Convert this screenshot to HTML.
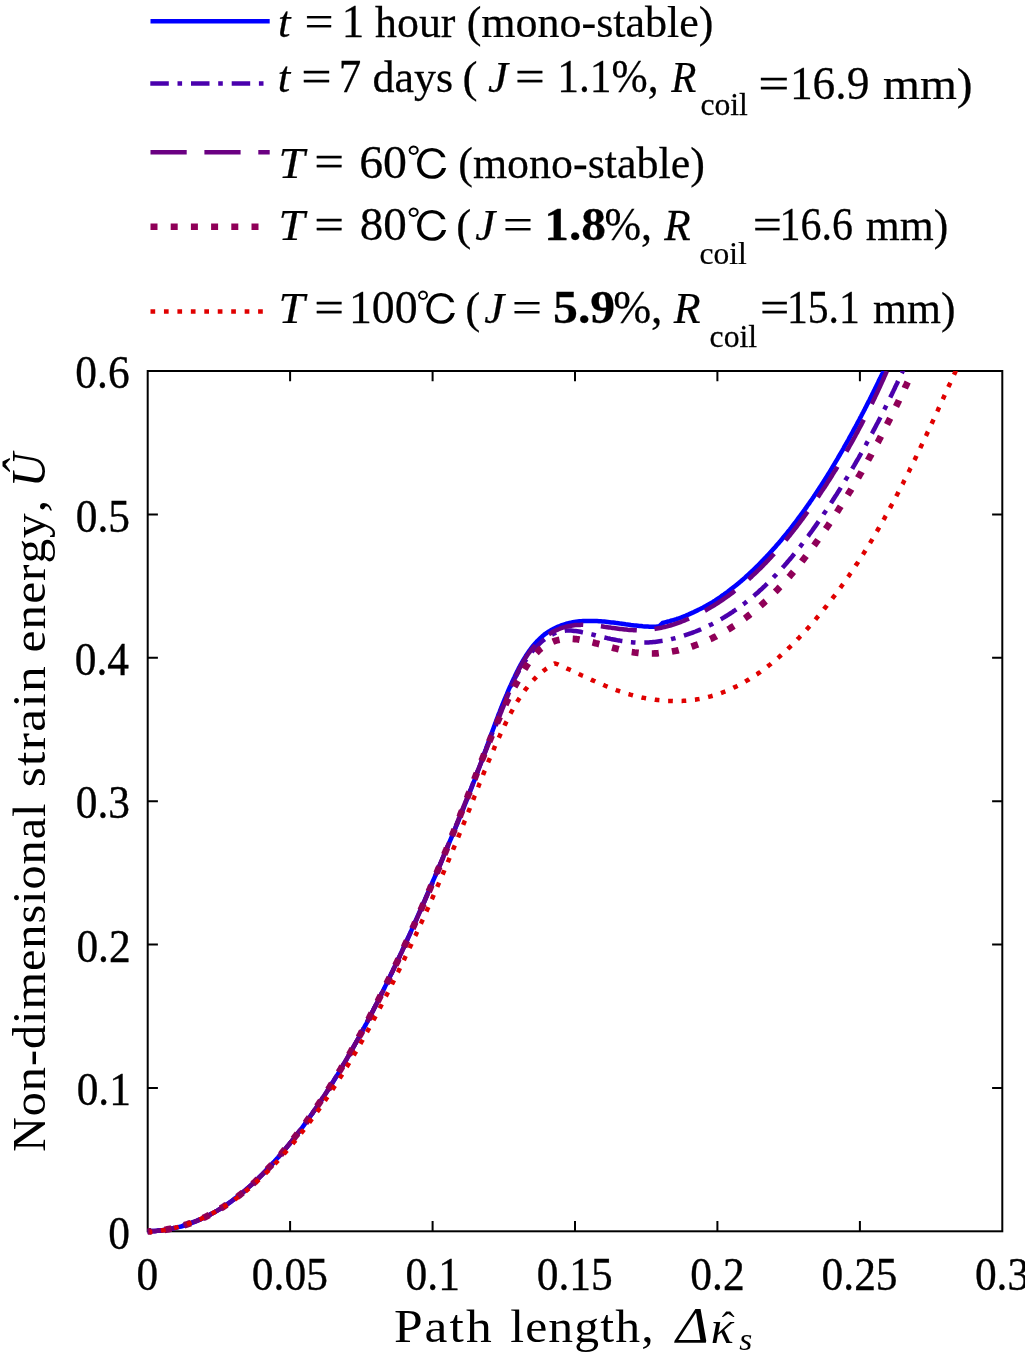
<!DOCTYPE html>
<html lang="en"><head><meta charset="utf-8"><title>Strain energy vs path length</title>
<style>html,body{margin:0;padding:0;background:#fff}svg{display:block}</style></head>
<body>
<svg width="1025" height="1353" viewBox="0 0 1025 1353">
<defs><clipPath id="plotclip"><rect x="147.1" y="371.0" width="855.1999999999999" height="864.3"/></clipPath></defs>
<rect width="1025" height="1353" fill="#fff"/>
<g stroke="#000" stroke-width="2" fill="none" stroke-linecap="butt">
<rect x="147.7" y="371.0" width="854.5999999999999" height="860.3"/>
<path d="M290.1,1231.3 V1221.1 M290.1,371.0 V381.2"/>
<path d="M432.6,1231.3 V1221.1 M432.6,371.0 V381.2"/>
<path d="M575.0,1231.3 V1221.1 M575.0,371.0 V381.2"/>
<path d="M717.4,1231.3 V1221.1 M717.4,371.0 V381.2"/>
<path d="M859.9,1231.3 V1221.1 M859.9,371.0 V381.2"/>
<path d="M147.7,1087.9 H157.89999999999998 M1002.3,1087.9 H992.0999999999999"/>
<path d="M147.7,944.5 H157.89999999999998 M1002.3,944.5 H992.0999999999999"/>
<path d="M147.7,801.2 H157.89999999999998 M1002.3,801.2 H992.0999999999999"/>
<path d="M147.7,657.8 H157.89999999999998 M1002.3,657.8 H992.0999999999999"/>
<path d="M147.7,514.4 H157.89999999999998 M1002.3,514.4 H992.0999999999999"/>
</g>
<g clip-path="url(#plotclip)" fill="none" stroke-linejoin="round">
<path d="M147.7,1231.2 L149.5,1231.2 L151.4,1231.1 L153.2,1231.0 L155.0,1230.9 L156.8,1230.8 L158.6,1230.6 L160.4,1230.5 L162.2,1230.2 L163.9,1230.0 L165.7,1229.8 L167.4,1229.5 L169.2,1229.2 L170.9,1228.9 L172.6,1228.5 L174.3,1228.1 L176.0,1227.8 L177.7,1227.3 L179.4,1226.9 L181.1,1226.5 L182.7,1226.0 L184.4,1225.5 L186.0,1225.0 L187.6,1224.4 L189.3,1223.9 L190.9,1223.3 L192.5,1222.7 L194.1,1222.1 L195.7,1221.5 L197.2,1220.8 L198.8,1220.1 L200.4,1219.4 L201.9,1218.7 L203.5,1218.0 L205.0,1217.3 L206.5,1216.5 L208.1,1215.7 L209.6,1214.9 L211.1,1214.1 L212.6,1213.3 L214.1,1212.5 L215.5,1211.6 L217.0,1210.8 L218.5,1209.9 L219.9,1209.0 L221.4,1208.1 L222.8,1207.1 L224.2,1206.2 L225.6,1205.2 L227.1,1204.3 L228.5,1203.3 L229.9,1202.3 L231.3,1201.3 L232.6,1200.3 L234.0,1199.2 L235.4,1198.2 L236.8,1197.1 L238.1,1196.1 L239.5,1195.0 L240.8,1193.9 L242.1,1192.8 L243.5,1191.7 L244.8,1190.6 L246.1,1189.4 L247.4,1188.3 L248.7,1187.1 L250.0,1186.0 L251.3,1184.8 L252.6,1183.6 L253.8,1182.5 L255.1,1181.3 L256.3,1180.1 L257.6,1178.9 L258.8,1177.7 L260.1,1176.4 L261.3,1175.2 L262.5,1174.0 L263.8,1172.7 L265.0,1171.5 L266.2,1170.2 L267.4,1169.0 L268.6,1167.7 L269.8,1166.5 L271.0,1165.2 L272.1,1163.9 L273.3,1162.6 L274.5,1161.4 L275.7,1160.1 L276.8,1158.8 L278.0,1157.5 L279.1,1156.2 L280.2,1154.9 L281.4,1153.6 L282.5,1152.2 L283.6,1150.9 L284.8,1149.6 L285.9,1148.3 L287.0,1146.9 L288.1,1145.6 L289.2,1144.3 L290.3,1142.9 L291.4,1141.6 L292.4,1140.2 L293.5,1138.9 L294.6,1137.5 L295.7,1136.1 L296.7,1134.8 L297.8,1133.4 L298.8,1132.0 L299.9,1130.7 L300.9,1129.3 L302.0,1127.9 L303.0,1126.5 L304.0,1125.1 L305.0,1123.7 L306.1,1122.3 L307.1,1120.9 L308.1,1119.5 L309.1,1118.1 L310.1,1116.7 L311.1,1115.3 L312.1,1113.9 L313.1,1112.4 L314.1,1111.0 L315.1,1109.6 L316.0,1108.2 L317.0,1106.7 L318.0,1105.3 L318.9,1103.9 L319.9,1102.4 L320.9,1101.0 L321.8,1099.5 L322.8,1098.1 L323.7,1096.7 L324.7,1095.2 L325.6,1093.7 L326.5,1092.3 L327.5,1090.8 L328.4,1089.4 L329.3,1087.9 L330.2,1086.4 L331.2,1085.0 L332.1,1083.5 L333.0,1082.0 L333.9,1080.6 L334.8,1079.1 L335.7,1077.6 L336.6,1076.1 L337.5,1074.7 L338.4,1073.2 L339.3,1071.7 L340.2,1070.2 L341.1,1068.7 L341.9,1067.2 L342.8,1065.7 L343.7,1064.2 L344.6,1062.7 L345.4,1061.3 L346.3,1059.8 L347.2,1058.3 L348.0,1056.8 L348.9,1055.3 L349.7,1053.8 L350.6,1052.3 L351.5,1050.8 L352.3,1049.2 L353.1,1047.7 L354.0,1046.2 L354.8,1044.7 L355.7,1043.2 L356.5,1041.7 L357.3,1040.2 L358.2,1038.7 L359.0,1037.2 L359.8,1035.6 L360.7,1034.1 L361.5,1032.6 L362.3,1031.1 L363.1,1029.6 L363.9,1028.0 L364.7,1026.5 L365.6,1025.0 L366.4,1023.5 L367.2,1021.9 L368.0,1020.4 L368.8,1018.9 L369.6,1017.3 L370.4,1015.8 L371.2,1014.3 L372.0,1012.8 L372.8,1011.2 L373.5,1009.7 L374.3,1008.1 L375.1,1006.6 L375.9,1005.1 L376.7,1003.5 L377.5,1002.0 L378.2,1000.4 L379.0,998.9 L379.8,997.4 L380.6,995.8 L381.3,994.3 L382.1,992.7 L382.9,991.2 L383.6,989.6 L384.4,988.1 L385.1,986.5 L385.9,985.0 L386.7,983.4 L387.4,981.9 L388.2,980.3 L388.9,978.8 L389.7,977.2 L390.4,975.6 L391.2,974.1 L391.9,972.5 L392.7,971.0 L393.4,969.4 L394.1,967.8 L394.9,966.3 L395.6,964.7 L396.3,963.2 L397.1,961.6 L397.8,960.0 L398.5,958.5 L399.3,956.9 L400.0,955.3 L400.7,953.8 L401.5,952.2 L402.2,950.6 L402.9,949.0 L403.6,947.5 L404.3,945.9 L405.1,944.3 L405.8,942.8 L406.5,941.2 L407.2,939.6 L407.9,938.0 L408.6,936.5 L409.4,934.9 L410.1,933.3 L410.8,931.7 L411.5,930.2 L412.2,928.6 L412.9,927.0 L413.6,925.4 L414.3,923.8 L415.0,922.3 L415.7,920.7 L416.4,919.1 L417.1,917.5 L417.8,915.9 L418.5,914.3 L419.2,912.8 L419.9,911.2 L420.6,909.6 L421.3,908.0 L422.0,906.4 L422.7,904.8 L423.4,903.2 L424.1,901.7 L424.8,900.1 L425.4,898.5 L426.1,896.9 L426.8,895.3 L427.5,893.7 L428.2,892.1 L428.9,890.5 L429.6,889.0 L430.3,887.4 L430.9,885.8 L431.6,884.2 L432.3,882.6 L433.0,881.0 L433.7,879.4 L434.4,877.8 L435.1,876.2 L435.7,874.6 L436.4,873.0 L437.1,871.4 L437.8,869.9 L438.5,868.3 L439.1,866.7 L439.8,865.1 L440.5,863.5 L441.2,861.9 L441.9,860.3 L442.5,858.7 L443.2,857.1 L443.9,855.5 L444.6,853.9 L445.2,852.3 L445.9,850.7 L446.6,849.1 L447.3,847.5 L447.9,845.9 L448.6,844.3 L449.3,842.7 L449.9,841.1 L450.6,839.5 L451.3,838.0 L451.9,836.4 L452.6,834.8 L453.3,833.2 L453.9,831.6 L454.6,830.0 L455.3,828.4 L455.9,826.8 L456.6,825.2 L457.3,823.6 L457.9,822.0 L458.6,820.4 L459.2,818.8 L459.9,817.2 L460.5,815.6 L461.2,813.9 L461.8,812.3 L462.5,810.7 L463.1,809.1 L463.8,807.5 L464.4,805.9 L465.0,804.3 L465.7,802.7 L466.3,801.1 L467.0,799.5 L467.6,797.9 L468.2,796.3 L468.9,794.7 L469.5,793.1 L470.1,791.5 L470.7,789.9 L471.4,788.3 L472.0,786.7 L472.6,785.0 L473.2,783.4 L473.8,781.8 L474.5,780.2 L475.1,778.6 L475.7,777.0 L476.3,775.4 L476.9,773.8 L477.5,772.2 L478.1,770.5 L478.7,768.9 L479.3,767.3 L479.9,765.7 L480.5,764.1 L481.1,762.5 L481.7,760.8 L482.2,759.2 L482.8,757.6 L483.4,756.0 L484.0,754.4 L484.6,752.8 L485.2,751.1 L485.8,749.5 L486.3,747.9 L486.9,746.3 L487.5,744.7 L488.1,743.1 L488.7,741.4 L489.2,739.8 L489.8,738.2 L490.4,736.6 L491.0,735.0 L491.6,733.3 L492.2,731.7 L492.8,730.1 L493.4,728.5 L494.0,726.9 L494.6,725.2 L495.2,723.6 L495.8,722.0 L496.4,720.4 L497.0,718.8 L497.6,717.2 L498.2,715.5 L498.8,713.9 L499.5,712.3 L500.1,710.7 L500.7,709.1 L501.4,707.5 L502.0,705.9 L502.7,704.2 L503.3,702.6 L504.0,701.0 L504.6,699.4 L505.3,697.8 L506.0,696.2 L506.7,694.6 L507.3,693.0 L508.0,691.3 L508.7,689.7 L509.4,688.1 L510.1,686.5 L510.9,684.9 L511.6,683.3 L512.3,681.7 L513.1,680.1 L513.8,678.5 L514.6,676.9 L515.3,675.3 L516.1,673.7 L516.9,672.1 L517.7,670.5 L518.5,668.9 L519.3,667.4 L520.1,665.8 L521.0,664.2 L521.8,662.7 L522.7,661.2 L523.6,659.6 L524.5,658.1 L525.4,656.7 L526.3,655.2 L527.3,653.7 L528.3,652.3 L529.3,650.9 L530.3,649.5 L531.3,648.1 L532.3,646.8 L533.4,645.5 L534.5,644.2 L535.6,642.9 L536.7,641.7 L537.9,640.5 L539.1,639.3 L540.3,638.2 L541.5,637.1 L542.7,636.0 L544.0,634.9 L545.3,633.9 L546.7,633.0 L548.0,632.0 L549.4,631.2 L550.8,630.3 L552.3,629.5 L553.7,628.7 L555.2,628.0 L556.7,627.3 L558.2,626.6 L559.8,626.0 L561.3,625.4 L562.9,624.8 L564.5,624.3 L566.1,623.8 L567.7,623.4 L569.4,623.0 L571.0,622.6 L572.7,622.3 L574.4,622.0 L576.1,621.7 L577.8,621.5 L579.5,621.3 L581.2,621.2 L583.0,621.1 L584.7,621.0 L586.4,620.9 L588.2,620.9 L590.0,620.9 L591.7,620.9 L593.5,620.9 L595.3,621.0 L597.1,621.1 L598.9,621.2 L600.7,621.3 L602.5,621.5 L604.2,621.6 L606.0,621.8 L607.8,622.0 L609.6,622.2 L611.4,622.4 L613.2,622.6 L615.0,622.8 L616.8,623.1 L618.6,623.3 L620.4,623.6 L622.1,623.8 L623.9,624.0 L625.7,624.3 L627.4,624.5 L629.2,624.7 L630.9,625.0 L632.6,625.2 L634.4,625.4 L636.1,625.6 L637.8,625.8 L639.5,626.0 L641.2,626.1 L642.8,626.3 L644.5,626.4 L646.1,626.5 L647.8,626.6 L649.4,626.7 L651.0,626.7 L652.6,626.8 L654.2,626.7 L655.8,626.7 L657.3,626.6 L658.9,626.5 L662.5,623.0 L663.7,622.7 L664.9,622.4 L666.0,622.1 L667.2,621.8 L668.4,621.5 L669.6,621.2 L670.7,620.8 L671.9,620.5 L673.0,620.2 L674.2,619.8 L675.3,619.5 L676.5,619.1 L677.6,618.7 L678.8,618.4 L679.9,618.0 L681.1,617.6 L682.2,617.1 L683.3,616.7 L684.4,616.2 L685.5,615.8 L686.6,615.3 L687.7,614.8 L688.8,614.4 L689.9,613.9 L691.0,613.4 L692.1,612.9 L693.2,612.4 L694.2,611.9 L695.3,611.4 L696.4,610.9 L697.5,610.4 L698.5,609.8 L699.6,609.3 L700.6,608.8 L701.7,608.2 L702.8,607.7 L703.8,607.1 L704.9,606.6 L705.9,606.0 L706.9,605.4 L708.0,604.9 L709.0,604.3 L710.0,603.7 L711.1,603.1 L712.1,602.5 L713.1,601.9 L714.1,601.2 L715.1,600.6 L716.1,599.9 L717.1,599.3 L718.0,598.6 L719.0,598.0 L720.0,597.3 L721.0,596.6 L721.9,595.9 L722.9,595.2 L723.9,594.6 L724.8,593.9 L725.8,593.2 L726.7,592.5 L727.7,591.8 L728.6,591.1 L729.6,590.3 L730.5,589.6 L731.4,588.9 L732.4,588.2 L733.3,587.4 L734.2,586.7 L735.1,586.0 L736.1,585.2 L737.0,584.5 L737.9,583.7 L738.8,583.0 L739.7,582.2 L740.6,581.5 L741.5,580.7 L742.4,579.9 L743.3,579.2 L744.2,578.4 L745.1,577.6 L745.9,576.8 L746.8,576.0 L747.7,575.2 L748.6,574.4 L749.4,573.6 L750.3,572.8 L751.1,572.0 L752.0,571.2 L752.9,570.4 L753.7,569.6 L754.6,568.8 L755.4,567.9 L756.2,567.1 L757.1,566.3 L757.9,565.5 L758.8,564.6 L759.6,563.8 L760.4,562.9 L761.2,562.1 L762.1,561.2 L762.9,560.4 L763.7,559.5 L764.5,558.7 L765.3,557.8 L766.1,557.0 L766.9,556.1 L767.7,555.3 L768.6,554.4 L769.4,553.5 L770.2,552.7 L770.9,551.8 L771.7,550.9 L772.5,550.0 L773.3,549.2 L774.1,548.3 L774.9,547.4 L775.7,546.5 L776.4,545.6 L777.2,544.7 L778.0,543.8 L778.8,543.0 L779.5,542.1 L780.3,541.2 L781.1,540.3 L781.8,539.4 L782.6,538.4 L783.3,537.5 L784.1,536.6 L784.8,535.7 L785.6,534.8 L786.3,533.9 L787.1,533.0 L787.8,532.0 L788.5,531.1 L789.3,530.2 L790.0,529.3 L790.7,528.3 L791.5,527.4 L792.2,526.5 L792.9,525.5 L793.6,524.6 L794.3,523.7 L795.1,522.7 L795.8,521.8 L796.5,520.8 L797.2,519.9 L797.9,518.9 L798.6,518.0 L799.3,517.0 L800.0,516.1 L800.7,515.1 L801.4,514.2 L802.1,513.2 L802.8,512.3 L803.5,511.3 L804.2,510.3 L804.9,509.4 L805.6,508.4 L806.3,507.5 L806.9,506.5 L807.6,505.5 L808.3,504.5 L809.0,503.6 L809.7,502.6 L810.3,501.6 L811.0,500.7 L811.7,499.7 L812.4,498.7 L813.0,497.7 L813.7,496.7 L814.3,495.8 L815.0,494.8 L815.7,493.8 L816.3,492.8 L817.0,491.8 L817.6,490.8 L818.3,489.8 L818.9,488.8 L819.6,487.8 L820.2,486.8 L820.9,485.8 L821.5,484.9 L822.2,483.9 L822.8,482.9 L823.4,481.9 L824.1,480.8 L824.7,479.8 L825.3,478.8 L826.0,477.8 L826.6,476.8 L827.2,475.8 L827.8,474.8 L828.5,473.8 L829.1,472.8 L829.7,471.8 L830.3,470.8 L830.9,469.8 L831.6,468.7 L832.2,467.7 L832.8,466.7 L833.4,465.7 L834.0,464.7 L834.6,463.7 L835.2,462.6 L835.8,461.6 L836.4,460.6 L837.0,459.6 L837.6,458.6 L838.2,457.5 L838.8,456.5 L839.4,455.5 L840.0,454.5 L840.6,453.4 L841.2,452.4 L841.8,451.4 L842.4,450.4 L843.0,449.3 L843.6,448.3 L844.1,447.3 L844.7,446.2 L845.3,445.2 L845.9,444.2 L846.5,443.2 L847.0,442.1 L847.6,441.1 L848.2,440.1 L848.8,439.0 L849.3,438.0 L849.9,437.0 L850.5,435.9 L851.1,434.9 L851.6,433.9 L852.2,432.8 L852.8,431.8 L853.3,430.7 L853.9,429.7 L854.4,428.7 L855.0,427.6 L855.6,426.6 L856.1,425.6 L856.7,424.5 L857.2,423.5 L857.8,422.4 L858.3,421.4 L858.9,420.4 L859.5,419.3 L860.0,418.3 L860.6,417.2 L861.1,416.2 L861.6,415.1 L862.2,414.1 L862.7,413.1 L863.3,412.0 L863.8,411.0 L864.4,409.9 L864.9,408.9 L865.4,407.8 L866.0,406.8 L866.5,405.7 L867.0,404.7 L867.6,403.7 L868.1,402.6 L868.6,401.6 L869.2,400.5 L869.7,399.5 L870.2,398.4 L870.8,397.4 L871.3,396.3 L871.8,395.3 L872.3,394.2 L872.9,393.2 L873.4,392.1 L873.9,391.1 L874.4,390.0 L874.9,389.0 L875.4,387.9 L876.0,386.9 L876.5,385.8 L877.0,384.8 L877.5,383.7 L878.0,382.7 L878.5,381.6 L879.0,380.6 L879.5,379.5 L880.1,378.5 L880.6,377.4 L881.1,376.3 L881.6,375.3 L882.1,374.2 L882.6,373.2 L883.1,372.1 L883.6,371.1 L884.1,370.0 L884.6,369.0 L885.1,367.9 L885.6,366.9 L886.1,365.8 L886.6,364.7 L887.1,363.7" stroke="#0000ff" stroke-width="4.5"/>
<path d="M147.6,1231.7 L149.2,1231.6 L150.9,1231.5 L152.6,1231.3 L154.2,1231.2 L155.8,1231.0 L157.5,1230.8 L159.1,1230.6 L160.7,1230.4 L162.3,1230.2 L163.9,1229.9 L165.5,1229.7 L167.1,1229.4 L168.7,1229.1 L170.2,1228.8 L171.8,1228.4 L173.3,1228.1 L174.9,1227.7 L176.4,1227.4 L177.9,1227.0 L179.5,1226.6 L181.0,1226.1 L182.5,1225.7 L184.0,1225.2 L185.4,1224.8 L186.9,1224.3 L188.4,1223.8 L189.9,1223.3 L191.3,1222.7 L192.8,1222.2 L194.2,1221.7 L195.6,1221.1 L197.1,1220.5 L198.5,1219.9 L199.9,1219.3 L201.3,1218.7 L202.7,1218.0 L204.1,1217.4 L205.5,1216.7 L206.9,1216.1 L208.2,1215.4 L209.6,1214.7 L210.9,1214.0 L212.3,1213.3 L213.6,1212.5 L215.0,1211.8 L216.3,1211.0 L217.6,1210.2 L218.9,1209.5 L220.3,1208.7 L221.6,1207.9 L222.9,1207.1 L224.1,1206.2 L225.4,1205.4 L226.7,1204.5 L228.0,1203.7 L229.2,1202.8 L230.5,1201.9 L231.7,1201.1 L233.0,1200.2 L234.2,1199.2 L235.5,1198.3 L236.7,1197.4 L237.9,1196.5 L239.1,1195.5 L240.3,1194.6 L241.5,1193.6 L242.7,1192.6 L243.9,1191.6 L245.1,1190.7 L246.3,1189.7 L247.5,1188.6 L248.6,1187.6 L249.8,1186.6 L251.0,1185.6 L252.1,1184.5 L253.3,1183.5 L254.4,1182.4 L255.5,1181.4 L256.7,1180.3 L257.8,1179.2 L258.9,1178.1 L260.0,1177.0 L261.1,1175.9 L262.2,1174.8 L263.3,1173.7 L264.4,1172.6 L265.5,1171.5 L266.6,1170.4 L267.7,1169.2 L268.8,1168.1 L269.8,1166.9 L270.9,1165.8 L272.0,1164.6 L273.0,1163.5 L274.1,1162.3 L275.1,1161.1 L276.2,1159.9 L277.2,1158.7 L278.2,1157.6 L279.2,1156.4 L280.3,1155.2 L281.3,1154.0 L282.3,1152.8 L283.3,1151.5 L284.3,1150.3 L285.3,1149.1 L286.3,1147.9 L287.3,1146.7 L288.3,1145.4 L289.3,1144.2 L290.3,1143.0 L291.2,1141.7 L292.2,1140.5 L293.2,1139.3 L294.1,1138.0 L295.1,1136.8 L296.1,1135.5 L297.0,1134.3 L298.0,1133.0 L298.9,1131.7 L299.9,1130.5 L300.8,1129.2 L301.7,1128.0 L302.7,1126.7 L303.6,1125.4 L304.5,1124.2 L305.4,1122.9 L306.4,1121.6 L307.3,1120.4 L308.2,1119.1 L309.1,1117.8 L310.0,1116.5 L310.9,1115.2 L311.8,1114.0 L312.7,1112.7 L313.6,1111.4 L314.5,1110.1 L315.4,1108.8 L316.2,1107.5 L317.1,1106.2 L318.0,1104.9 L318.9,1103.6 L319.7,1102.3 L320.6,1101.0 L321.5,1099.7 L322.3,1098.4 L323.2,1097.1 L324.0,1095.8 L324.9,1094.5 L325.7,1093.2 L326.6,1091.9 L327.4,1090.6 L328.2,1089.3 L329.1,1088.0 L329.9,1086.6 L330.7,1085.3 L331.6,1084.0 L332.4,1082.7 L333.2,1081.4 L334.0,1080.0 L334.8,1078.7 L335.7,1077.4 L336.5,1076.1 L337.3,1074.7 L338.1,1073.4 L338.9,1072.1 L339.7,1070.7 L340.5,1069.4 L341.3,1068.1 L342.1,1066.7 L342.9,1065.4 L343.7,1064.0 L344.4,1062.7 L345.2,1061.4 L346.0,1060.0 L346.8,1058.7 L347.6,1057.3 L348.3,1056.0 L349.1,1054.6 L349.9,1053.3 L350.6,1051.9 L351.4,1050.6 L352.2,1049.2 L352.9,1047.9 L353.7,1046.5 L354.5,1045.1 L355.2,1043.8 L356.0,1042.4 L356.7,1041.1 L357.5,1039.7 L358.2,1038.3 L359.0,1037.0 L359.7,1035.6 L360.4,1034.2 L361.2,1032.9 L361.9,1031.5 L362.6,1030.1 L363.4,1028.8 L364.1,1027.4 L364.8,1026.0 L365.6,1024.7 L366.3,1023.3 L367.0,1021.9 L367.7,1020.5 L368.5,1019.2 L369.2,1017.8 L369.9,1016.4 L370.6,1015.0 L371.3,1013.6 L372.1,1012.3 L372.8,1010.9 L373.5,1009.5 L374.2,1008.1 L374.9,1006.7 L375.6,1005.3 L376.3,1004.0 L377.0,1002.6 L377.7,1001.2 L378.4,999.8 L379.1,998.4 L379.8,997.0 L380.5,995.6 L381.2,994.2 L381.9,992.8 L382.6,991.5 L383.3,990.1 L384.0,988.7 L384.7,987.3 L385.4,985.9 L386.0,984.5 L386.7,983.1 L387.4,981.7 L388.1,980.3 L388.8,978.9 L389.5,977.5 L390.2,976.1 L390.8,974.7 L391.5,973.3 L392.2,971.9 L392.9,970.5 L393.5,969.1 L394.2,967.7 L394.9,966.3 L395.6,964.9 L396.2,963.5 L396.9,962.1 L397.6,960.7 L398.2,959.2 L398.9,957.8 L399.6,956.4 L400.2,955.0 L400.9,953.6 L401.5,952.2 L402.2,950.8 L402.9,949.4 L403.5,948.0 L404.2,946.6 L404.8,945.1 L405.5,943.7 L406.1,942.3 L406.8,940.9 L407.5,939.5 L408.1,938.1 L408.8,936.6 L409.4,935.2 L410.0,933.8 L410.7,932.4 L411.3,931.0 L412.0,929.6 L412.6,928.1 L413.3,926.7 L413.9,925.3 L414.6,923.9 L415.2,922.5 L415.8,921.0 L416.5,919.6 L417.1,918.2 L417.7,916.8 L418.4,915.3 L419.0,913.9 L419.6,912.5 L420.3,911.1 L420.9,909.6 L421.5,908.2 L422.2,906.8 L422.8,905.4 L423.4,903.9 L424.0,902.5 L424.7,901.1 L425.3,899.6 L425.9,898.2 L426.5,896.8 L427.2,895.3 L427.8,893.9 L428.4,892.5 L429.0,891.1 L429.6,889.6 L430.3,888.2 L430.9,886.8 L431.5,885.3 L432.1,883.9 L432.7,882.4 L433.3,881.0 L433.9,879.6 L434.5,878.1 L435.2,876.7 L435.8,875.3 L436.4,873.8 L437.0,872.4 L437.6,871.0 L438.2,869.5 L438.8,868.1 L439.4,866.6 L440.0,865.2 L440.6,863.8 L441.2,862.3 L441.8,860.9 L442.4,859.4 L443.0,858.0 L443.6,856.6 L444.2,855.1 L444.8,853.7 L445.4,852.2 L446.0,850.8 L446.6,849.3 L447.2,847.9 L447.8,846.5 L448.4,845.0 L449.0,843.6 L449.6,842.1 L450.1,840.7 L450.7,839.2 L451.3,837.8 L451.9,836.3 L452.5,834.9 L453.1,833.5 L453.7,832.0 L454.3,830.6 L454.8,829.1 L455.4,827.7 L456.0,826.2 L456.6,824.8 L457.2,823.3 L457.8,821.9 L458.3,820.4 L458.9,819.0 L459.5,817.5 L460.1,816.1 L460.7,814.6 L461.2,813.2 L461.8,811.7 L462.4,810.3 L463.0,808.8 L463.5,807.4 L464.1,805.9 L464.7,804.5 L465.3,803.0 L465.8,801.6 L466.4,800.1 L467.0,798.7 L467.6,797.2 L468.1,795.8 L468.7,794.3 L469.3,792.9 L469.8,791.4 L470.4,790.0 L471.0,788.5 L471.5,787.1 L472.1,785.6 L472.7,784.1 L473.2,782.7 L473.8,781.2 L474.4,779.8 L474.9,778.3 L475.5,776.9 L476.1,775.4 L476.6,774.0 L477.2,772.5 L477.7,771.1 L478.3,769.6 L478.9,768.1 L479.4,766.7 L480.0,765.2 L480.5,763.8 L481.1,762.3 L481.7,760.9 L482.2,759.4 L482.8,758.0 L483.3,756.5 L483.9,755.0 L484.4,753.6 L485.0,752.1 L485.6,750.7 L486.1,749.2 L486.7,747.8 L487.2,746.3 L487.8,744.9 L488.3,743.4 L488.9,741.9 L489.4,740.5 L490.0,739.0 L490.5,737.6 L491.1,736.1 L491.6,734.7 L492.2,733.2 L492.7,731.8 L493.3,730.3 L493.8,728.8 L494.4,727.4 L494.9,725.9 L495.5,724.5 L496.0,723.0 L496.6,721.6 L497.1,720.1 L497.7,718.6 L498.2,717.2 L498.8,715.7 L499.3,714.3 L499.9,712.8 L500.4,711.4 L501.0,709.9 L501.6,708.5 L502.1,707.0 L502.7,705.6 L503.3,704.1 L503.9,702.7 L504.4,701.3 L505.0,699.8 L505.6,698.4 L506.2,697.0 L506.8,695.5 L507.4,694.1 L508.1,692.7 L508.7,691.3 L509.3,689.9 L510.0,688.4 L510.6,687.0 L511.3,685.6 L511.9,684.2 L512.6,682.8 L513.3,681.4 L514.0,680.1 L514.7,678.7 L515.4,677.3 L516.2,675.9 L516.9,674.6 L517.7,673.2 L518.4,671.8 L519.2,670.5 L520.0,669.1 L520.8,667.8 L521.6,666.5 L522.5,665.1 L523.3,663.8 L524.2,662.5 L525.0,661.2 L525.9,659.9 L526.8,658.6 L527.8,657.3 L528.7,656.0 L529.6,654.8 L530.6,653.5 L531.6,652.3 L532.6,651.0 L533.6,649.8 L534.7,648.6 L535.7,647.5 L536.8,646.3 L537.9,645.2 L539.0,644.1 L540.1,643.1 L541.2,642.1 L542.4,641.1 L543.6,640.1 L544.8,639.2 L546.0,638.3 L547.2,637.4 L548.5,636.6 L549.7,635.9 L551.0,635.1 L552.3,634.5 L553.6,633.8 L555.0,633.2 L556.3,632.7 L557.7,632.2 L559.1,631.8 L560.5,631.5 L562.0,631.2 L563.4,630.9 L564.9,630.7 L566.4,630.6 L567.9,630.6 L569.5,630.6 L571.0,630.6 L572.6,630.7 L574.1,630.9 L575.7,631.1 L577.3,631.3 L578.9,631.5 L580.5,631.8 L582.1,632.2 L583.8,632.5 L585.4,632.9 L587.0,633.2 L588.6,633.6 L590.2,634.0 L591.8,634.4 L593.4,634.8 L595.0,635.2 L596.5,635.6 L598.1,636.0 L599.7,636.3 L601.2,636.7 L602.8,637.1 L604.4,637.5 L605.9,637.8 L607.4,638.2 L609.0,638.5 L610.5,638.9 L612.0,639.2 L613.6,639.5 L615.1,639.8 L616.6,640.1 L618.2,640.4 L619.7,640.6 L621.2,640.9 L622.7,641.1 L624.2,641.4 L625.8,641.6 L627.3,641.8 L628.8,641.9 L630.3,642.1 L631.8,642.2 L633.4,642.4 L634.9,642.4 L636.4,642.5 L638.0,642.6 L639.5,642.6 L641.0,642.6 L642.6,642.6 L644.1,642.6 L645.6,642.6 L647.2,642.5 L648.7,642.4 L650.2,642.3 L651.8,642.2 L653.3,642.0 L654.8,641.9 L656.4,641.7 L657.9,641.5 L659.5,641.3 L661.0,641.1 L662.5,640.8 L664.1,640.6 L665.6,640.3 L667.1,640.0 L668.6,639.7 L670.2,639.4 L671.7,639.0 L673.2,638.6 L674.7,638.3 L676.2,637.9 L677.8,637.5 L679.3,637.0 L680.8,636.6 L682.3,636.2 L683.8,635.7 L685.3,635.2 L686.8,634.7 L688.3,634.2 L689.7,633.7 L691.2,633.2 L692.7,632.6 L694.2,632.0 L695.6,631.5 L697.1,630.9 L698.5,630.3 L700.0,629.7 L701.4,629.1 L702.9,628.4 L704.3,627.8 L705.7,627.1 L707.1,626.4 L708.6,625.8 L710.0,625.1 L711.4,624.4 L712.7,623.7 L714.1,622.9 L715.5,622.2 L716.9,621.5 L718.2,620.7 L719.6,619.9 L720.9,619.2 L722.3,618.4 L723.6,617.6 L724.9,616.8 L726.3,616.0 L727.6,615.2 L728.9,614.3 L730.2,613.5 L731.5,612.7 L732.8,611.8 L734.0,610.9 L735.3,610.1 L736.6,609.2 L737.9,608.3 L739.1,607.4 L740.4,606.5 L741.6,605.6 L742.8,604.6 L744.1,603.7 L745.3,602.8 L746.5,601.8 L747.7,600.8 L748.9,599.9 L750.1,598.9 L751.3,597.9 L752.5,596.9 L753.7,595.9 L754.9,594.9 L756.0,593.9 L757.2,592.9 L758.4,591.9 L759.5,590.8 L760.7,589.8 L761.8,588.8 L763.0,587.7 L764.1,586.6 L765.2,585.6 L766.3,584.5 L767.4,583.4 L768.6,582.3 L769.7,581.3 L770.8,580.2 L771.9,579.1 L773.0,577.9 L774.0,576.8 L775.1,575.7 L776.2,574.6 L777.3,573.4 L778.3,572.3 L779.4,571.2 L780.4,570.0 L781.5,568.9 L782.5,567.7 L783.6,566.5 L784.6,565.4 L785.6,564.2 L786.7,563.0 L787.7,561.8 L788.7,560.6 L789.7,559.5 L790.7,558.3 L791.7,557.1 L792.7,555.8 L793.7,554.6 L794.7,553.4 L795.7,552.2 L796.7,551.0 L797.7,549.8 L798.6,548.5 L799.6,547.3 L800.6,546.1 L801.5,544.8 L802.5,543.6 L803.4,542.3 L804.4,541.1 L805.3,539.8 L806.3,538.6 L807.2,537.3 L808.2,536.1 L809.1,534.8 L810.0,533.5 L810.9,532.3 L811.9,531.0 L812.8,529.7 L813.7,528.4 L814.6,527.2 L815.5,525.9 L816.4,524.6 L817.3,523.3 L818.2,522.0 L819.1,520.7 L820.0,519.4 L820.9,518.1 L821.8,516.9 L822.7,515.6 L823.5,514.3 L824.4,513.0 L825.3,511.7 L826.2,510.4 L827.0,509.1 L827.9,507.8 L828.7,506.5 L829.6,505.2 L830.5,503.9 L831.3,502.6 L832.2,501.3 L833.0,499.9 L833.9,498.6 L834.7,497.3 L835.5,496.0 L836.4,494.7 L837.2,493.4 L838.0,492.1 L838.9,490.8 L839.7,489.4 L840.5,488.1 L841.3,486.8 L842.1,485.5 L843.0,484.2 L843.8,482.8 L844.6,481.5 L845.4,480.2 L846.2,478.9 L847.0,477.6 L847.8,476.2 L848.6,474.9 L849.4,473.6 L850.2,472.2 L851.0,470.9 L851.8,469.6 L852.6,468.2 L853.3,466.9 L854.1,465.6 L854.9,464.2 L855.7,462.9 L856.4,461.5 L857.2,460.2 L858.0,458.9 L858.8,457.5 L859.5,456.2 L860.3,454.8 L861.0,453.5 L861.8,452.1 L862.6,450.8 L863.3,449.4 L864.1,448.1 L864.8,446.7 L865.6,445.3 L866.3,444.0 L867.0,442.6 L867.8,441.3 L868.5,439.9 L869.3,438.5 L870.0,437.2 L870.7,435.8 L871.5,434.4 L872.2,433.1 L872.9,431.7 L873.6,430.3 L874.4,429.0 L875.1,427.6 L875.8,426.2 L876.5,424.8 L877.2,423.5 L878.0,422.1 L878.7,420.7 L879.4,419.3 L880.1,417.9 L880.8,416.5 L881.5,415.2 L882.2,413.8 L882.9,412.4 L883.6,411.0 L884.3,409.6 L885.0,408.2 L885.7,406.8 L886.4,405.4 L887.1,404.0 L887.8,402.6 L888.4,401.2 L889.1,399.8 L889.8,398.4 L890.5,397.0 L891.2,395.6 L891.9,394.2 L892.5,392.8 L893.2,391.4 L893.9,389.9 L894.6,388.5 L895.2,387.1 L895.9,385.7 L896.6,384.3 L897.3,382.9 L897.9,381.4 L898.6,380.0 L899.3,378.6 L899.9,377.1 L900.6,375.7 L901.2,374.3 L901.9,372.9 L902.6,371.4 L903.2,370.0 L903.9,368.5 L904.5,367.1 L905.2,365.7 L905.8,364.2 L906.5,362.8" stroke="#4a00ad" stroke-width="4.5" stroke-dasharray="18.4 8.6 4.6 8.8" stroke-dashoffset="4.4"/>
<path d="M147.6,1231.3 L149.3,1231.3 L150.9,1231.2 L152.5,1231.1 L154.1,1231.0 L155.8,1230.9 L157.4,1230.8 L158.9,1230.6 L160.5,1230.4 L162.1,1230.2 L163.7,1230.0 L165.2,1229.8 L166.8,1229.5 L168.3,1229.3 L169.9,1229.0 L171.4,1228.7 L172.9,1228.4 L174.4,1228.0 L175.9,1227.7 L177.4,1227.3 L178.9,1226.9 L180.4,1226.5 L181.9,1226.1 L183.3,1225.7 L184.8,1225.3 L186.3,1224.8 L187.7,1224.3 L189.2,1223.8 L190.6,1223.3 L192.0,1222.8 L193.4,1222.3 L194.8,1221.7 L196.2,1221.2 L197.6,1220.6 L199.0,1220.0 L200.4,1219.4 L201.8,1218.8 L203.2,1218.1 L204.5,1217.5 L205.9,1216.8 L207.2,1216.1 L208.6,1215.5 L209.9,1214.8 L211.2,1214.0 L212.6,1213.3 L213.9,1212.6 L215.2,1211.8 L216.5,1211.1 L217.8,1210.3 L219.1,1209.5 L220.4,1208.7 L221.7,1207.9 L222.9,1207.1 L224.2,1206.3 L225.5,1205.4 L226.7,1204.6 L228.0,1203.7 L229.2,1202.9 L230.4,1202.0 L231.7,1201.1 L232.9,1200.2 L234.1,1199.3 L235.3,1198.4 L236.5,1197.4 L237.7,1196.5 L238.9,1195.6 L240.1,1194.6 L241.3,1193.6 L242.5,1192.7 L243.6,1191.7 L244.8,1190.7 L246.0,1189.7 L247.1,1188.7 L248.3,1187.7 L249.4,1186.7 L250.6,1185.6 L251.7,1184.6 L252.8,1183.6 L254.0,1182.5 L255.1,1181.5 L256.2,1180.4 L257.3,1179.3 L258.4,1178.3 L259.5,1177.2 L260.6,1176.1 L261.7,1175.0 L262.8,1173.9 L263.8,1172.8 L264.9,1171.7 L266.0,1170.6 L267.1,1169.5 L268.1,1168.3 L269.2,1167.2 L270.2,1166.1 L271.3,1165.0 L272.3,1163.8 L273.3,1162.7 L274.4,1161.5 L275.4,1160.4 L276.4,1159.2 L277.5,1158.1 L278.5,1156.9 L279.5,1155.7 L280.5,1154.6 L281.5,1153.4 L282.5,1152.2 L283.5,1151.0 L284.5,1149.9 L285.5,1148.7 L286.4,1147.5 L287.4,1146.3 L288.4,1145.1 L289.4,1143.9 L290.3,1142.7 L291.3,1141.5 L292.2,1140.3 L293.2,1139.1 L294.1,1137.9 L295.1,1136.7 L296.0,1135.5 L297.0,1134.3 L297.9,1133.1 L298.8,1131.9 L299.8,1130.6 L300.7,1129.4 L301.6,1128.2 L302.5,1127.0 L303.4,1125.7 L304.3,1124.5 L305.3,1123.3 L306.2,1122.0 L307.1,1120.8 L307.9,1119.5 L308.8,1118.3 L309.7,1117.0 L310.6,1115.8 L311.5,1114.5 L312.4,1113.3 L313.2,1112.0 L314.1,1110.8 L315.0,1109.5 L315.9,1108.3 L316.7,1107.0 L317.6,1105.7 L318.4,1104.5 L319.3,1103.2 L320.1,1101.9 L321.0,1100.6 L321.8,1099.4 L322.7,1098.1 L323.5,1096.8 L324.3,1095.5 L325.2,1094.2 L326.0,1092.9 L326.8,1091.7 L327.7,1090.4 L328.5,1089.1 L329.3,1087.8 L330.1,1086.5 L330.9,1085.2 L331.7,1083.9 L332.5,1082.6 L333.4,1081.3 L334.2,1080.0 L335.0,1078.7 L335.8,1077.4 L336.5,1076.1 L337.3,1074.8 L338.1,1073.5 L338.9,1072.2 L339.7,1070.8 L340.5,1069.5 L341.3,1068.2 L342.1,1066.9 L342.8,1065.6 L343.6,1064.3 L344.4,1062.9 L345.1,1061.6 L345.9,1060.3 L346.7,1059.0 L347.4,1057.6 L348.2,1056.3 L349.0,1055.0 L349.7,1053.7 L350.5,1052.3 L351.2,1051.0 L352.0,1049.7 L352.7,1048.3 L353.5,1047.0 L354.2,1045.7 L355.0,1044.3 L355.7,1043.0 L356.5,1041.6 L357.2,1040.3 L357.9,1039.0 L358.7,1037.6 L359.4,1036.3 L360.1,1034.9 L360.9,1033.6 L361.6,1032.2 L362.3,1030.9 L363.1,1029.5 L363.8,1028.2 L364.5,1026.8 L365.2,1025.5 L365.9,1024.1 L366.7,1022.8 L367.4,1021.4 L368.1,1020.1 L368.8,1018.7 L369.5,1017.4 L370.2,1016.0 L370.9,1014.7 L371.6,1013.3 L372.3,1012.0 L373.1,1010.6 L373.8,1009.2 L374.5,1007.9 L375.2,1006.5 L375.9,1005.2 L376.6,1003.8 L377.2,1002.4 L377.9,1001.1 L378.6,999.7 L379.3,998.3 L380.0,997.0 L380.7,995.6 L381.4,994.2 L382.1,992.9 L382.8,991.5 L383.4,990.1 L384.1,988.7 L384.8,987.4 L385.5,986.0 L386.1,984.6 L386.8,983.3 L387.5,981.9 L388.2,980.5 L388.8,979.1 L389.5,977.7 L390.2,976.4 L390.8,975.0 L391.5,973.6 L392.2,972.2 L392.8,970.9 L393.5,969.5 L394.2,968.1 L394.8,966.7 L395.5,965.3 L396.1,963.9 L396.8,962.6 L397.4,961.2 L398.1,959.8 L398.7,958.4 L399.4,957.0 L400.0,955.6 L400.7,954.2 L401.3,952.9 L402.0,951.5 L402.6,950.1 L403.3,948.7 L403.9,947.3 L404.6,945.9 L405.2,944.5 L405.8,943.1 L406.5,941.7 L407.1,940.3 L407.7,938.9 L408.4,937.5 L409.0,936.1 L409.6,934.7 L410.3,933.4 L410.9,932.0 L411.5,930.6 L412.2,929.2 L412.8,927.8 L413.4,926.4 L414.0,925.0 L414.7,923.6 L415.3,922.2 L415.9,920.8 L416.5,919.4 L417.2,918.0 L417.8,916.6 L418.4,915.2 L419.0,913.8 L419.6,912.4 L420.2,910.9 L420.9,909.5 L421.5,908.1 L422.1,906.7 L422.7,905.3 L423.3,903.9 L423.9,902.5 L424.5,901.1 L425.1,899.7 L425.7,898.3 L426.3,896.9 L426.9,895.5 L427.6,894.1 L428.2,892.7 L428.8,891.3 L429.4,889.8 L430.0,888.4 L430.6,887.0 L431.2,885.6 L431.8,884.2 L432.4,882.8 L433.0,881.4 L433.6,880.0 L434.1,878.6 L434.7,877.1 L435.3,875.7 L435.9,874.3 L436.5,872.9 L437.1,871.5 L437.7,870.1 L438.3,868.7 L438.9,867.2 L439.5,865.8 L440.1,864.4 L440.7,863.0 L441.2,861.6 L441.8,860.2 L442.4,858.8 L443.0,857.3 L443.6,855.9 L444.2,854.5 L444.8,853.1 L445.3,851.7 L445.9,850.3 L446.5,848.8 L447.1,847.4 L447.7,846.0 L448.2,844.6 L448.8,843.2 L449.4,841.7 L450.0,840.3 L450.6,838.9 L451.1,837.5 L451.7,836.1 L452.3,834.7 L452.9,833.2 L453.4,831.8 L454.0,830.4 L454.6,829.0 L455.2,827.6 L455.7,826.1 L456.3,824.7 L456.9,823.3 L457.5,821.9 L458.0,820.5 L458.6,819.0 L459.2,817.6 L459.7,816.2 L460.3,814.8 L460.9,813.3 L461.5,811.9 L462.0,810.5 L462.6,809.1 L463.2,807.7 L463.7,806.2 L464.3,804.8 L464.9,803.4 L465.4,802.0 L466.0,800.6 L466.6,799.1 L467.1,797.7 L467.7,796.3 L468.3,794.9 L468.8,793.5 L469.4,792.0 L470.0,790.6 L470.5,789.2 L471.1,787.8 L471.7,786.3 L472.2,784.9 L472.8,783.5 L473.4,782.1 L473.9,780.7 L474.5,779.2 L475.0,777.8 L475.6,776.4 L476.2,775.0 L476.7,773.6 L477.3,772.1 L477.9,770.7 L478.4,769.3 L479.0,767.9 L479.6,766.4 L480.1,765.0 L480.7,763.6 L481.2,762.2 L481.8,760.8 L482.4,759.3 L482.9,757.9 L483.5,756.5 L484.1,755.1 L484.6,753.6 L485.2,752.2 L485.7,750.8 L486.3,749.4 L486.9,748.0 L487.4,746.5 L488.0,745.1 L488.6,743.7 L489.1,742.3 L489.7,740.9 L490.3,739.4 L490.8,738.0 L491.4,736.6 L491.9,735.2 L492.5,733.7 L493.1,732.3 L493.6,730.9 L494.2,729.5 L494.8,728.1 L495.3,726.6 L495.9,725.2 L496.5,723.8 L497.0,722.4 L497.6,721.0 L498.2,719.5 L498.7,718.1 L499.3,716.7 L499.9,715.3 L500.4,713.8 L501.0,712.4 L501.6,711.0 L502.1,709.6 L502.7,708.2 L503.3,706.7 L503.8,705.3 L504.4,703.9 L505.0,702.5 L505.6,701.1 L506.1,699.6 L506.7,698.2 L507.3,696.8 L507.8,695.4 L508.4,694.0 L509.0,692.5 L509.6,691.1 L510.1,689.7 L510.7,688.3 L511.3,686.9 L511.9,685.4 L512.4,684.0 L513.0,682.6 L513.6,681.2 L514.2,679.8 L514.8,678.4 L515.5,677.0 L516.1,675.6 L516.7,674.2 L517.4,672.8 L518.0,671.4 L518.7,670.0 L519.4,668.6 L520.1,667.3 L520.8,665.9 L521.6,664.5 L522.3,663.2 L523.1,661.8 L523.9,660.5 L524.7,659.2 L525.5,657.8 L526.4,656.6 L527.2,655.3 L528.1,654.0 L529.0,652.7 L530.0,651.5 L530.9,650.3 L531.9,649.1 L532.9,647.9 L533.9,646.8 L535.0,645.6 L536.1,644.5 L537.1,643.5 L538.3,642.4 L539.4,641.4 L540.5,640.3 L541.7,639.4 L542.9,638.4 L544.1,637.5 L545.3,636.6 L546.6,635.7 L547.8,634.9 L549.1,634.1 L550.4,633.3 L551.7,632.5 L553.0,631.8 L554.3,631.1 L555.7,630.5 L557.0,629.8 L558.4,629.3 L559.8,628.7 L561.2,628.2 L562.6,627.7 L564.0,627.3 L565.4,626.9 L566.8,626.5 L568.3,626.2 L569.7,625.9 L571.1,625.7 L572.6,625.5 L574.1,625.3 L575.5,625.1 L577.0,625.0 L578.5,624.9 L580.0,624.9 L581.5,624.8 L583.0,624.8 L584.5,624.9 L586.0,624.9 L587.5,625.0 L589.0,625.1 L590.5,625.2 L592.0,625.3 L593.6,625.4 L595.1,625.6 L596.6,625.8 L598.2,625.9 L599.7,626.1 L601.2,626.3 L602.8,626.5 L604.3,626.8 L605.9,627.0 L607.4,627.2 L609.0,627.4 L610.5,627.6 L612.1,627.9 L613.7,628.1 L615.2,628.3 L616.8,628.5 L618.3,628.7 L619.9,628.9 L621.5,629.1 L623.0,629.3 L624.6,629.5 L626.1,629.6 L627.7,629.8 L629.2,629.9 L630.8,630.0 L632.3,630.1 L633.9,630.2 L635.4,630.2 L637.0,630.3 L638.5,630.3 L640.1,630.2 L641.6,630.2 L643.1,630.1 L644.7,630.0 L646.2,629.9 L647.7,629.8 L649.3,629.6 L650.8,629.5 L652.3,629.3 L653.8,629.1 L655.3,628.8 L656.8,628.6 L658.3,628.3 L659.8,628.0 L661.3,627.7 L662.8,627.4 L664.3,627.0 L665.8,626.7 L667.3,626.3 L668.8,625.9 L670.2,625.5 L671.7,625.0 L673.2,624.6 L674.6,624.1 L676.1,623.6 L677.5,623.1 L679.0,622.6 L680.4,622.1 L681.9,621.5 L683.3,621.0 L684.7,620.4 L686.1,619.8 L687.5,619.2 L689.0,618.6 L690.4,618.0 L691.8,617.4 L693.2,616.7 L694.5,616.1 L695.9,615.4 L697.3,614.7 L698.7,614.0 L700.0,613.3 L701.4,612.6 L702.7,611.9 L704.1,611.1 L705.4,610.4 L706.8,609.7 L708.1,608.9 L709.4,608.1 L710.7,607.3 L712.0,606.6 L713.3,605.8 L714.6,605.0 L715.9,604.2 L717.2,603.3 L718.5,602.5 L719.8,601.7 L721.0,600.8 L722.3,600.0 L723.5,599.1 L724.8,598.2 L726.0,597.4 L727.3,596.5 L728.5,595.6 L729.7,594.7 L731.0,593.8 L732.2,592.9 L733.4,591.9 L734.6,591.0 L735.8,590.1 L737.0,589.1 L738.2,588.2 L739.3,587.2 L740.5,586.3 L741.7,585.3 L742.9,584.3 L744.0,583.3 L745.2,582.3 L746.3,581.3 L747.5,580.3 L748.6,579.3 L749.7,578.3 L750.9,577.3 L752.0,576.2 L753.1,575.2 L754.2,574.2 L755.3,573.1 L756.4,572.1 L757.5,571.0 L758.6,569.9 L759.7,568.9 L760.8,567.8 L761.9,566.7 L763.0,565.6 L764.0,564.5 L765.1,563.4 L766.2,562.3 L767.2,561.2 L768.3,560.1 L769.3,559.0 L770.4,557.9 L771.4,556.7 L772.4,555.6 L773.5,554.5 L774.5,553.3 L775.5,552.2 L776.5,551.0 L777.5,549.9 L778.6,548.7 L779.6,547.6 L780.6,546.4 L781.6,545.2 L782.6,544.1 L783.5,542.9 L784.5,541.7 L785.5,540.5 L786.5,539.3 L787.5,538.1 L788.4,536.9 L789.4,535.7 L790.4,534.5 L791.3,533.3 L792.3,532.1 L793.2,530.9 L794.2,529.7 L795.1,528.5 L796.1,527.3 L797.0,526.1 L797.9,524.8 L798.9,523.6 L799.8,522.4 L800.7,521.2 L801.6,519.9 L802.6,518.7 L803.5,517.4 L804.4,516.2 L805.3,515.0 L806.2,513.7 L807.1,512.5 L808.0,511.2 L808.9,510.0 L809.8,508.7 L810.7,507.5 L811.5,506.2 L812.4,505.0 L813.3,503.7 L814.2,502.5 L815.1,501.2 L815.9,499.9 L816.8,498.7 L817.7,497.4 L818.5,496.2 L819.4,494.9 L820.2,493.6 L821.1,492.3 L821.9,491.1 L822.8,489.8 L823.6,488.5 L824.5,487.3 L825.3,486.0 L826.2,484.7 L827.0,483.4 L827.8,482.1 L828.6,480.8 L829.5,479.6 L830.3,478.3 L831.1,477.0 L831.9,475.7 L832.7,474.4 L833.5,473.1 L834.3,471.8 L835.2,470.5 L836.0,469.2 L836.8,467.9 L837.5,466.6 L838.3,465.3 L839.1,464.0 L839.9,462.7 L840.7,461.4 L841.5,460.1 L842.3,458.7 L843.0,457.4 L843.8,456.1 L844.6,454.8 L845.3,453.5 L846.1,452.2 L846.9,450.8 L847.6,449.5 L848.4,448.2 L849.1,446.9 L849.9,445.5 L850.6,444.2 L851.4,442.9 L852.1,441.5 L852.9,440.2 L853.6,438.9 L854.4,437.5 L855.1,436.2 L855.8,434.8 L856.5,433.5 L857.3,432.2 L858.0,430.8 L858.7,429.5 L859.4,428.1 L860.1,426.8 L860.9,425.4 L861.6,424.1 L862.3,422.7 L863.0,421.3 L863.7,420.0 L864.4,418.6 L865.1,417.3 L865.8,415.9 L866.5,414.5 L867.2,413.2 L867.8,411.8 L868.5,410.4 L869.2,409.1 L869.9,407.7 L870.6,406.3 L871.2,404.9 L871.9,403.6 L872.6,402.2 L873.2,400.8 L873.9,399.4 L874.6,398.0 L875.2,396.6 L875.9,395.2 L876.5,393.9 L877.2,392.5 L877.8,391.1 L878.5,389.7 L879.1,388.3 L879.8,386.9 L880.4,385.5 L881.1,384.1 L881.7,382.7 L882.3,381.3 L883.0,379.9 L883.6,378.5 L884.2,377.1 L884.8,375.7 L885.5,374.2 L886.1,372.8 L886.7,371.4 L887.3,370.0 L887.9,368.6 L888.5,367.2 L889.2,365.7 L889.8,364.3 L890.4,362.9" stroke="#6b0082" stroke-width="4.5" stroke-dasharray="36.2 17.7" stroke-dashoffset="6.4"/>
<path d="M147.6,1231.5 L149.3,1231.4 L151.0,1231.3 L152.6,1231.2 L154.3,1231.1 L155.9,1230.9 L157.6,1230.8 L159.2,1230.6 L160.8,1230.4 L162.5,1230.2 L164.1,1229.9 L165.7,1229.7 L167.3,1229.4 L168.9,1229.1 L170.4,1228.8 L172.0,1228.5 L173.6,1228.1 L175.1,1227.8 L176.7,1227.4 L178.2,1227.0 L179.7,1226.6 L181.2,1226.2 L182.8,1225.8 L184.3,1225.3 L185.8,1224.8 L187.2,1224.3 L188.7,1223.8 L190.2,1223.3 L191.7,1222.8 L193.1,1222.3 L194.6,1221.7 L196.0,1221.1 L197.5,1220.5 L198.9,1219.9 L200.3,1219.3 L201.7,1218.7 L203.1,1218.0 L204.5,1217.4 L205.9,1216.7 L207.3,1216.0 L208.7,1215.3 L210.1,1214.6 L211.4,1213.9 L212.8,1213.1 L214.1,1212.4 L215.5,1211.6 L216.8,1210.8 L218.2,1210.1 L219.5,1209.3 L220.8,1208.4 L222.1,1207.6 L223.4,1206.8 L224.7,1205.9 L226.0,1205.1 L227.3,1204.2 L228.6,1203.3 L229.8,1202.5 L231.1,1201.6 L232.4,1200.6 L233.6,1199.7 L234.9,1198.8 L236.1,1197.8 L237.3,1196.9 L238.6,1195.9 L239.8,1195.0 L241.0,1194.0 L242.2,1193.0 L243.4,1192.0 L244.6,1191.0 L245.8,1190.0 L247.0,1189.0 L248.2,1187.9 L249.4,1186.9 L250.5,1185.8 L251.7,1184.8 L252.9,1183.7 L254.0,1182.7 L255.2,1181.6 L256.3,1180.5 L257.4,1179.4 L258.6,1178.3 L259.7,1177.2 L260.8,1176.1 L261.9,1175.0 L263.0,1173.8 L264.1,1172.7 L265.2,1171.6 L266.3,1170.4 L267.4,1169.3 L268.5,1168.1 L269.6,1166.9 L270.7,1165.8 L271.7,1164.6 L272.8,1163.4 L273.9,1162.3 L274.9,1161.1 L276.0,1159.9 L277.0,1158.7 L278.1,1157.5 L279.1,1156.3 L280.1,1155.1 L281.2,1153.9 L282.2,1152.7 L283.2,1151.4 L284.2,1150.2 L285.2,1149.0 L286.2,1147.8 L287.2,1146.5 L288.2,1145.3 L289.2,1144.1 L290.2,1142.8 L291.2,1141.6 L292.2,1140.4 L293.2,1139.1 L294.2,1137.9 L295.1,1136.6 L296.1,1135.4 L297.1,1134.1 L298.0,1132.9 L299.0,1131.6 L299.9,1130.3 L300.9,1129.1 L301.8,1127.8 L302.8,1126.5 L303.7,1125.3 L304.6,1124.0 L305.6,1122.7 L306.5,1121.5 L307.4,1120.2 L308.3,1118.9 L309.2,1117.6 L310.1,1116.3 L311.1,1115.0 L312.0,1113.8 L312.9,1112.5 L313.8,1111.2 L314.6,1109.9 L315.5,1108.6 L316.4,1107.3 L317.3,1106.0 L318.2,1104.7 L319.1,1103.4 L319.9,1102.1 L320.8,1100.8 L321.7,1099.5 L322.5,1098.2 L323.4,1096.8 L324.3,1095.5 L325.1,1094.2 L326.0,1092.9 L326.8,1091.6 L327.7,1090.2 L328.5,1088.9 L329.4,1087.6 L330.2,1086.3 L331.0,1084.9 L331.9,1083.6 L332.7,1082.3 L333.5,1080.9 L334.3,1079.6 L335.2,1078.3 L336.0,1076.9 L336.8,1075.6 L337.6,1074.3 L338.4,1072.9 L339.2,1071.6 L340.0,1070.2 L340.8,1068.9 L341.6,1067.5 L342.4,1066.2 L343.2,1064.8 L344.0,1063.5 L344.8,1062.1 L345.6,1060.8 L346.4,1059.4 L347.2,1058.0 L348.0,1056.7 L348.7,1055.3 L349.5,1054.0 L350.3,1052.6 L351.1,1051.2 L351.8,1049.9 L352.6,1048.5 L353.4,1047.1 L354.1,1045.8 L354.9,1044.4 L355.7,1043.0 L356.4,1041.6 L357.2,1040.3 L357.9,1038.9 L358.7,1037.5 L359.4,1036.1 L360.2,1034.8 L360.9,1033.4 L361.7,1032.0 L362.4,1030.6 L363.2,1029.2 L363.9,1027.9 L364.7,1026.5 L365.4,1025.1 L366.1,1023.7 L366.9,1022.3 L367.6,1020.9 L368.3,1019.5 L369.1,1018.1 L369.8,1016.7 L370.5,1015.4 L371.2,1014.0 L372.0,1012.6 L372.7,1011.2 L373.4,1009.8 L374.1,1008.4 L374.8,1007.0 L375.6,1005.6 L376.3,1004.2 L377.0,1002.8 L377.7,1001.4 L378.4,1000.0 L379.1,998.6 L379.8,997.2 L380.5,995.8 L381.2,994.4 L381.9,993.0 L382.6,991.6 L383.3,990.2 L384.0,988.8 L384.7,987.3 L385.4,985.9 L386.1,984.5 L386.8,983.1 L387.5,981.7 L388.2,980.3 L388.9,978.9 L389.6,977.5 L390.3,976.1 L391.0,974.6 L391.6,973.2 L392.3,971.8 L393.0,970.4 L393.7,969.0 L394.4,967.6 L395.1,966.1 L395.7,964.7 L396.4,963.3 L397.1,961.9 L397.8,960.5 L398.4,959.0 L399.1,957.6 L399.8,956.2 L400.4,954.8 L401.1,953.3 L401.8,951.9 L402.4,950.5 L403.1,949.1 L403.8,947.6 L404.4,946.2 L405.1,944.8 L405.7,943.4 L406.4,941.9 L407.1,940.5 L407.7,939.1 L408.4,937.6 L409.0,936.2 L409.7,934.8 L410.3,933.3 L411.0,931.9 L411.6,930.5 L412.3,929.0 L412.9,927.6 L413.6,926.2 L414.2,924.7 L414.9,923.3 L415.5,921.9 L416.1,920.4 L416.8,919.0 L417.4,917.5 L418.1,916.1 L418.7,914.7 L419.3,913.2 L420.0,911.8 L420.6,910.3 L421.2,908.9 L421.9,907.5 L422.5,906.0 L423.1,904.6 L423.8,903.1 L424.4,901.7 L425.0,900.2 L425.6,898.8 L426.3,897.4 L426.9,895.9 L427.5,894.5 L428.1,893.0 L428.8,891.6 L429.4,890.1 L430.0,888.7 L430.6,887.2 L431.2,885.8 L431.8,884.3 L432.5,882.9 L433.1,881.4 L433.7,880.0 L434.3,878.5 L434.9,877.1 L435.5,875.6 L436.1,874.2 L436.7,872.7 L437.4,871.3 L438.0,869.8 L438.6,868.4 L439.2,866.9 L439.8,865.5 L440.4,864.0 L441.0,862.6 L441.6,861.1 L442.2,859.7 L442.8,858.2 L443.4,856.7 L444.0,855.3 L444.6,853.8 L445.2,852.4 L445.8,850.9 L446.4,849.5 L447.0,848.0 L447.6,846.6 L448.2,845.1 L448.8,843.6 L449.4,842.2 L450.0,840.7 L450.6,839.3 L451.2,837.8 L451.7,836.4 L452.3,834.9 L452.9,833.4 L453.5,832.0 L454.1,830.5 L454.7,829.1 L455.3,827.6 L455.9,826.1 L456.4,824.7 L457.0,823.2 L457.6,821.8 L458.2,820.3 L458.8,818.8 L459.4,817.4 L460.0,815.9 L460.5,814.5 L461.1,813.0 L461.7,811.5 L462.3,810.1 L462.9,808.6 L463.4,807.2 L464.0,805.7 L464.6,804.2 L465.2,802.8 L465.7,801.3 L466.3,799.9 L466.9,798.4 L467.5,796.9 L468.0,795.5 L468.6,794.0 L469.2,792.6 L469.8,791.1 L470.3,789.6 L470.9,788.2 L471.5,786.7 L472.1,785.2 L472.6,783.8 L473.2,782.3 L473.8,780.9 L474.3,779.4 L474.9,777.9 L475.5,776.5 L476.0,775.0 L476.6,773.6 L477.2,772.1 L477.7,770.6 L478.3,769.2 L478.9,767.7 L479.4,766.3 L480.0,764.8 L480.6,763.3 L481.2,761.9 L481.7,760.4 L482.3,759.0 L482.9,757.5 L483.5,756.0 L484.0,754.6 L484.6,753.1 L485.2,751.7 L485.8,750.2 L486.4,748.8 L486.9,747.3 L487.5,745.8 L488.1,744.4 L488.7,742.9 L489.3,741.5 L489.9,740.0 L490.5,738.6 L491.1,737.1 L491.7,735.7 L492.3,734.2 L492.9,732.8 L493.5,731.3 L494.1,729.9 L494.7,728.5 L495.3,727.0 L496.0,725.6 L496.6,724.1 L497.2,722.7 L497.9,721.2 L498.5,719.8 L499.1,718.4 L499.8,716.9 L500.4,715.5 L501.1,714.1 L501.7,712.6 L502.4,711.2 L503.0,709.8 L503.7,708.3 L504.4,706.9 L505.1,705.5 L505.7,704.1 L506.4,702.6 L507.1,701.2 L507.8,699.8 L508.5,698.4 L509.2,697.0 L509.9,695.5 L510.7,694.1 L511.4,692.7 L512.1,691.3 L512.9,689.9 L513.6,688.5 L514.3,687.1 L515.1,685.7 L515.9,684.3 L516.6,682.9 L517.4,681.5 L518.2,680.1 L519.0,678.7 L519.7,677.3 L520.5,675.9 L521.3,674.5 L522.2,673.1 L523.0,671.7 L523.8,670.4 L524.6,669.0 L525.5,667.6 L526.3,666.3 L527.2,664.9 L528.1,663.6 L529.0,662.2 L529.9,660.9 L530.8,659.6 L531.7,658.4 L532.7,657.1 L533.7,655.9 L534.7,654.7 L535.7,653.6 L536.8,652.5 L537.8,651.4 L538.9,650.3 L540.0,649.3 L541.2,648.4 L542.4,647.5 L543.6,646.6 L544.8,645.8 L546.1,645.0 L547.3,644.2 L548.7,643.5 L550.0,642.9 L551.3,642.3 L552.7,641.8 L554.1,641.2 L555.5,640.8 L556.9,640.4 L558.4,640.0 L559.8,639.7 L561.3,639.4 L562.8,639.2 L564.3,639.0 L565.8,638.9 L567.3,638.8 L568.8,638.8 L570.4,638.8 L571.9,638.8 L573.5,638.9 L575.0,639.1 L576.6,639.2 L578.2,639.4 L579.7,639.7 L581.3,639.9 L582.9,640.2 L584.5,640.5 L586.1,640.9 L587.6,641.2 L589.2,641.6 L590.8,641.9 L592.4,642.3 L594.0,642.7 L595.6,643.2 L597.1,643.6 L598.7,644.0 L600.3,644.4 L601.9,644.8 L603.4,645.3 L605.0,645.7 L606.6,646.1 L608.1,646.6 L609.7,647.0 L611.3,647.4 L612.8,647.8 L614.4,648.2 L616.0,648.6 L617.5,649.0 L619.1,649.4 L620.6,649.8 L622.2,650.1 L623.7,650.5 L625.3,650.8 L626.8,651.1 L628.4,651.4 L630.0,651.7 L631.5,652.0 L633.1,652.2 L634.6,652.5 L636.2,652.7 L637.7,652.8 L639.3,653.0 L640.8,653.1 L642.4,653.3 L643.9,653.3 L645.5,653.4 L647.0,653.5 L648.6,653.5 L650.1,653.5 L651.7,653.5 L653.2,653.5 L654.8,653.4 L656.3,653.3 L657.8,653.3 L659.4,653.1 L660.9,653.0 L662.5,652.9 L664.0,652.7 L665.5,652.5 L667.1,652.3 L668.6,652.1 L670.1,651.8 L671.6,651.6 L673.2,651.3 L674.7,651.0 L676.2,650.7 L677.7,650.4 L679.2,650.0 L680.8,649.7 L682.3,649.3 L683.8,648.9 L685.3,648.5 L686.8,648.0 L688.3,647.6 L689.8,647.1 L691.2,646.7 L692.7,646.2 L694.2,645.7 L695.7,645.1 L697.2,644.6 L698.6,644.1 L700.1,643.5 L701.6,642.9 L703.0,642.3 L704.5,641.7 L705.9,641.1 L707.4,640.4 L708.8,639.8 L710.2,639.1 L711.7,638.5 L713.1,637.8 L714.5,637.1 L715.9,636.4 L717.3,635.6 L718.7,634.9 L720.1,634.1 L721.5,633.4 L722.9,632.6 L724.3,631.8 L725.7,631.0 L727.0,630.2 L728.4,629.4 L729.8,628.6 L731.1,627.7 L732.4,626.9 L733.8,626.0 L735.1,625.2 L736.4,624.3 L737.8,623.4 L739.1,622.5 L740.4,621.6 L741.7,620.7 L743.0,619.8 L744.2,618.8 L745.5,617.9 L746.8,616.9 L748.0,616.0 L749.3,615.0 L750.5,614.1 L751.8,613.1 L753.0,612.1 L754.2,611.1 L755.4,610.1 L756.6,609.1 L757.8,608.1 L759.0,607.0 L760.2,606.0 L761.4,605.0 L762.6,603.9 L763.8,602.9 L764.9,601.8 L766.1,600.8 L767.2,599.7 L768.4,598.6 L769.5,597.5 L770.6,596.4 L771.7,595.4 L772.9,594.3 L774.0,593.1 L775.1,592.0 L776.2,590.9 L777.3,589.8 L778.4,588.7 L779.4,587.5 L780.5,586.4 L781.6,585.2 L782.6,584.1 L783.7,582.9 L784.8,581.8 L785.8,580.6 L786.9,579.4 L787.9,578.3 L788.9,577.1 L790.0,575.9 L791.0,574.7 L792.0,573.5 L793.0,572.3 L794.0,571.1 L795.0,569.9 L796.0,568.7 L797.0,567.5 L798.0,566.3 L799.0,565.0 L800.0,563.8 L801.0,562.6 L801.9,561.3 L802.9,560.1 L803.9,558.9 L804.8,557.6 L805.8,556.4 L806.8,555.1 L807.7,553.9 L808.7,552.6 L809.6,551.4 L810.5,550.1 L811.5,548.9 L812.4,547.6 L813.4,546.3 L814.3,545.1 L815.2,543.8 L816.1,542.5 L817.1,541.2 L818.0,540.0 L818.9,538.7 L819.8,537.4 L820.7,536.1 L821.6,534.8 L822.5,533.5 L823.4,532.2 L824.3,531.0 L825.2,529.7 L826.1,528.4 L827.0,527.1 L827.9,525.8 L828.8,524.5 L829.6,523.2 L830.5,521.9 L831.4,520.6 L832.3,519.3 L833.1,517.9 L834.0,516.6 L834.9,515.3 L835.7,514.0 L836.6,512.7 L837.4,511.4 L838.3,510.1 L839.1,508.7 L840.0,507.4 L840.8,506.1 L841.7,504.8 L842.5,503.4 L843.4,502.1 L844.2,500.8 L845.0,499.4 L845.8,498.1 L846.7,496.8 L847.5,495.4 L848.3,494.1 L849.1,492.7 L850.0,491.4 L850.8,490.1 L851.6,488.7 L852.4,487.4 L853.2,486.0 L854.0,484.7 L854.8,483.3 L855.6,482.0 L856.4,480.6 L857.2,479.3 L858.0,477.9 L858.8,476.5 L859.6,475.2 L860.4,473.8 L861.2,472.5 L861.9,471.1 L862.7,469.7 L863.5,468.4 L864.3,467.0 L865.1,465.6 L865.8,464.2 L866.6,462.9 L867.4,461.5 L868.1,460.1 L868.9,458.8 L869.6,457.4 L870.4,456.0 L871.2,454.6 L871.9,453.2 L872.7,451.9 L873.4,450.5 L874.2,449.1 L874.9,447.7 L875.7,446.3 L876.4,444.9 L877.1,443.5 L877.9,442.2 L878.6,440.8 L879.3,439.4 L880.1,438.0 L880.8,436.6 L881.5,435.2 L882.3,433.8 L883.0,432.4 L883.7,431.0 L884.4,429.6 L885.2,428.2 L885.9,426.8 L886.6,425.4 L887.3,424.0 L888.0,422.6 L888.7,421.2 L889.4,419.8 L890.1,418.4 L890.8,417.0 L891.5,415.6 L892.2,414.1 L892.9,412.7 L893.6,411.3 L894.3,409.9 L895.0,408.5 L895.7,407.1 L896.4,405.7 L897.1,404.3 L897.8,402.8 L898.5,401.4 L899.1,400.0 L899.8,398.6 L900.5,397.2 L901.2,395.8 L901.9,394.3 L902.5,392.9 L903.2,391.5 L903.9,390.1 L904.6,388.7 L905.2,387.2 L905.9,385.8 L906.6,384.4 L907.2,383.0 L907.9,381.5 L908.6,380.1 L909.2,378.7 L909.9,377.3 L910.5,375.8 L911.2,374.4 L911.8,373.0 L912.5,371.5 L913.2,370.1 L913.8,368.7 L914.5,367.3 L915.1,365.8 L915.8,364.4 L916.4,363.0" stroke="#8f0058" stroke-width="6.7" stroke-dasharray="7 13.2" stroke-dashoffset="3.2"/>
<path d="M149.6,1232.0 L151.2,1231.9 L152.7,1231.7 L154.2,1231.6 L155.7,1231.4 L157.3,1231.2 L158.8,1231.0 L160.3,1230.8 L161.7,1230.5 L163.2,1230.3 L164.7,1230.0 L166.2,1229.7 L167.6,1229.4 L169.1,1229.1 L170.5,1228.8 L172.0,1228.5 L173.4,1228.2 L174.9,1227.8 L176.3,1227.4 L177.7,1227.1 L179.1,1226.7 L180.5,1226.3 L181.9,1225.9 L183.3,1225.4 L184.7,1225.0 L186.1,1224.6 L187.5,1224.1 L188.8,1223.6 L190.2,1223.1 L191.6,1222.6 L192.9,1222.1 L194.3,1221.6 L195.6,1221.1 L196.9,1220.6 L198.3,1220.0 L199.6,1219.4 L200.9,1218.9 L202.2,1218.3 L203.5,1217.7 L204.8,1217.1 L206.1,1216.5 L207.4,1215.9 L208.7,1215.2 L210.0,1214.6 L211.2,1213.9 L212.5,1213.3 L213.8,1212.6 L215.0,1211.9 L216.3,1211.2 L217.5,1210.5 L218.8,1209.8 L220.0,1209.1 L221.2,1208.4 L222.4,1207.6 L223.7,1206.9 L224.9,1206.1 L226.1,1205.4 L227.3,1204.6 L228.5,1203.8 L229.7,1203.0 L230.9,1202.2 L232.0,1201.4 L233.2,1200.6 L234.4,1199.8 L235.6,1198.9 L236.7,1198.1 L237.9,1197.2 L239.0,1196.4 L240.2,1195.5 L241.3,1194.6 L242.5,1193.8 L243.6,1192.9 L244.7,1192.0 L245.8,1191.1 L247.0,1190.2 L248.1,1189.3 L249.2,1188.3 L250.3,1187.4 L251.4,1186.5 L252.5,1185.5 L253.6,1184.6 L254.7,1183.6 L255.8,1182.7 L256.8,1181.7 L257.9,1180.7 L259.0,1179.7 L260.0,1178.8 L261.1,1177.8 L262.2,1176.8 L263.2,1175.8 L264.3,1174.8 L265.3,1173.7 L266.3,1172.7 L267.4,1171.7 L268.4,1170.7 L269.4,1169.6 L270.4,1168.6 L271.5,1167.5 L272.5,1166.5 L273.5,1165.4 L274.5,1164.4 L275.5,1163.3 L276.5,1162.2 L277.5,1161.2 L278.5,1160.1 L279.5,1159.0 L280.4,1157.9 L281.4,1156.8 L282.4,1155.7 L283.4,1154.7 L284.3,1153.5 L285.3,1152.4 L286.3,1151.3 L287.2,1150.2 L288.2,1149.1 L289.1,1148.0 L290.1,1146.9 L291.0,1145.7 L292.0,1144.6 L292.9,1143.5 L293.8,1142.4 L294.8,1141.2 L295.7,1140.1 L296.6,1138.9 L297.5,1137.8 L298.4,1136.6 L299.3,1135.5 L300.3,1134.4 L301.2,1133.2 L302.1,1132.0 L303.0,1130.9 L303.9,1129.7 L304.7,1128.6 L305.6,1127.4 L306.5,1126.2 L307.4,1125.1 L308.3,1123.9 L309.2,1122.7 L310.0,1121.6 L310.9,1120.4 L311.8,1119.2 L312.6,1118.1 L313.5,1116.9 L314.4,1115.7 L315.2,1114.5 L316.1,1113.3 L316.9,1112.2 L317.8,1111.0 L318.6,1109.8 L319.5,1108.6 L320.3,1107.4 L321.1,1106.2 L322.0,1105.0 L322.8,1103.8 L323.6,1102.6 L324.5,1101.4 L325.3,1100.2 L326.1,1099.0 L326.9,1097.8 L327.7,1096.6 L328.5,1095.4 L329.4,1094.2 L330.2,1093.0 L331.0,1091.8 L331.8,1090.6 L332.6,1089.4 L333.4,1088.2 L334.2,1086.9 L335.0,1085.7 L335.7,1084.5 L336.5,1083.3 L337.3,1082.1 L338.1,1080.8 L338.9,1079.6 L339.7,1078.4 L340.4,1077.2 L341.2,1075.9 L342.0,1074.7 L342.7,1073.5 L343.5,1072.2 L344.3,1071.0 L345.0,1069.8 L345.8,1068.5 L346.5,1067.3 L347.3,1066.1 L348.0,1064.8 L348.8,1063.6 L349.5,1062.3 L350.3,1061.1 L351.0,1059.9 L351.8,1058.6 L352.5,1057.4 L353.3,1056.1 L354.0,1054.9 L354.7,1053.6 L355.5,1052.4 L356.2,1051.1 L356.9,1049.9 L357.6,1048.6 L358.4,1047.4 L359.1,1046.1 L359.8,1044.8 L360.5,1043.6 L361.2,1042.3 L361.9,1041.1 L362.7,1039.8 L363.4,1038.5 L364.1,1037.3 L364.8,1036.0 L365.5,1034.7 L366.2,1033.5 L366.9,1032.2 L367.6,1030.9 L368.3,1029.7 L369.0,1028.4 L369.7,1027.1 L370.4,1025.9 L371.1,1024.6 L371.7,1023.3 L372.4,1022.0 L373.1,1020.8 L373.8,1019.5 L374.5,1018.2 L375.2,1016.9 L375.9,1015.6 L376.5,1014.4 L377.2,1013.1 L377.9,1011.8 L378.6,1010.5 L379.2,1009.2 L379.9,1007.9 L380.6,1006.7 L381.2,1005.4 L381.9,1004.1 L382.6,1002.8 L383.2,1001.5 L383.9,1000.2 L384.6,998.9 L385.2,997.6 L385.9,996.3 L386.5,995.1 L387.2,993.8 L387.8,992.5 L388.5,991.2 L389.2,989.9 L389.8,988.6 L390.5,987.3 L391.1,986.0 L391.8,984.7 L392.4,983.4 L393.1,982.1 L393.7,980.8 L394.3,979.5 L395.0,978.2 L395.6,976.9 L396.3,975.6 L396.9,974.3 L397.5,973.0 L398.2,971.7 L398.8,970.4 L399.5,969.1 L400.1,967.8 L400.7,966.5 L401.4,965.2 L402.0,963.9 L402.6,962.6 L403.3,961.3 L403.9,960.0 L404.5,958.7 L405.1,957.3 L405.8,956.0 L406.4,954.7 L407.0,953.4 L407.6,952.1 L408.3,950.8 L408.9,949.5 L409.5,948.2 L410.1,946.9 L410.7,945.5 L411.4,944.2 L412.0,942.9 L412.6,941.6 L413.2,940.3 L413.8,939.0 L414.4,937.7 L415.0,936.3 L415.7,935.0 L416.3,933.7 L416.9,932.4 L417.5,931.1 L418.1,929.8 L418.7,928.4 L419.3,927.1 L419.9,925.8 L420.5,924.5 L421.1,923.2 L421.7,921.8 L422.3,920.5 L422.9,919.2 L423.5,917.9 L424.1,916.5 L424.7,915.2 L425.3,913.9 L425.9,912.6 L426.5,911.3 L427.1,909.9 L427.7,908.6 L428.3,907.3 L428.9,905.9 L429.5,904.6 L430.0,903.3 L430.6,902.0 L431.2,900.6 L431.8,899.3 L432.4,898.0 L433.0,896.6 L433.6,895.3 L434.2,894.0 L434.7,892.7 L435.3,891.3 L435.9,890.0 L436.5,888.7 L437.1,887.3 L437.6,886.0 L438.2,884.7 L438.8,883.3 L439.4,882.0 L439.9,880.7 L440.5,879.3 L441.1,878.0 L441.7,876.6 L442.2,875.3 L442.8,874.0 L443.4,872.6 L444.0,871.3 L444.5,870.0 L445.1,868.6 L445.7,867.3 L446.2,865.9 L446.8,864.6 L447.4,863.3 L447.9,861.9 L448.5,860.6 L449.0,859.2 L449.6,857.9 L450.2,856.6 L450.7,855.2 L451.3,853.9 L451.8,852.5 L452.4,851.2 L453.0,849.8 L453.5,848.5 L454.1,847.2 L454.6,845.8 L455.2,844.5 L455.7,843.1 L456.3,841.8 L456.9,840.4 L457.4,839.1 L458.0,837.7 L458.5,836.4 L459.1,835.0 L459.6,833.7 L460.2,832.3 L460.7,831.0 L461.2,829.6 L461.8,828.3 L462.3,826.9 L462.9,825.6 L463.4,824.2 L464.0,822.9 L464.5,821.5 L465.1,820.2 L465.6,818.8 L466.1,817.5 L466.7,816.1 L467.2,814.8 L467.8,813.4 L468.3,812.1 L468.8,810.7 L469.4,809.4 L469.9,808.0 L470.5,806.7 L471.0,805.3 L471.5,803.9 L472.1,802.6 L472.6,801.2 L473.1,799.9 L473.7,798.5 L474.2,797.2 L474.7,795.8 L475.3,794.5 L475.8,793.1 L476.3,791.7 L476.9,790.4 L477.4,789.0 L477.9,787.7 L478.5,786.3 L479.0,785.0 L479.5,783.6 L480.1,782.3 L480.6,780.9 L481.2,779.6 L481.7,778.2 L482.2,776.8 L482.8,775.5 L483.3,774.1 L483.9,772.8 L484.4,771.4 L485.0,770.1 L485.5,768.7 L486.1,767.4 L486.6,766.1 L487.2,764.7 L487.7,763.4 L488.3,762.0 L488.8,760.7 L489.4,759.3 L490.0,758.0 L490.5,756.7 L491.1,755.3 L491.7,754.0 L492.2,752.6 L492.8,751.3 L493.4,750.0 L494.0,748.6 L494.5,747.3 L495.1,746.0 L495.7,744.6 L496.3,743.3 L496.9,742.0 L497.5,740.7 L498.1,739.3 L498.7,738.0 L499.3,736.7 L499.9,735.4 L500.5,734.0 L501.1,732.7 L501.7,731.4 L502.3,730.1 L503.0,728.8 L503.6,727.5 L504.2,726.2 L504.8,724.9 L505.5,723.6 L506.1,722.3 L506.8,721.0 L507.4,719.7 L508.1,718.4 L508.7,717.1 L509.4,715.8 L510.0,714.5 L510.7,713.2 L511.4,711.9 L512.1,710.7 L512.8,709.4 L513.5,708.1 L514.2,706.9 L514.9,705.6 L515.6,704.4 L516.4,703.1 L517.1,701.9 L517.8,700.7 L518.6,699.5 L519.4,698.3 L520.2,697.1 L520.9,695.9 L521.7,694.7 L522.5,693.5 L523.4,692.4 L524.2,691.2 L525.0,690.1 L525.9,688.9 L526.8,687.8 L527.6,686.7 L528.5,685.6 L529.4,684.5 L530.4,683.4 L531.3,682.3 L532.3,681.3 L533.2,680.3 L534.2,679.2 L535.2,678.2 L536.2,677.2 L537.2,676.2 L538.3,675.3 L539.3,674.3 L540.4,673.4 L541.5,672.4 L542.6,671.5 L543.7,670.6 L544.9,669.8 L546.0,668.9 L547.2,668.1 L548.4,667.2 L549.6,666.4 L550.9,665.7 L552.1,664.9 L553.4,664.1 L554.7,663.4 L557.7,664.3 L558.7,664.8 L559.7,665.2 L560.7,665.7 L561.8,666.1 L562.8,666.6 L563.8,667.0 L564.8,667.5 L565.9,667.9 L566.9,668.4 L567.9,668.9 L569.0,669.3 L570.0,669.8 L571.1,670.3 L572.1,670.8 L573.1,671.3 L574.2,671.7 L575.2,672.2 L576.3,672.7 L577.3,673.2 L578.4,673.7 L579.4,674.2 L580.5,674.7 L581.5,675.2 L582.6,675.7 L583.7,676.1 L584.7,676.6 L585.8,677.1 L586.8,677.6 L587.9,678.1 L589.0,678.6 L590.1,679.1 L591.1,679.6 L592.2,680.1 L593.3,680.6 L594.4,681.0 L595.4,681.5 L596.5,682.0 L597.6,682.5 L598.7,683.0 L599.8,683.4 L600.9,683.9 L602.0,684.4 L603.1,684.8 L604.2,685.3 L605.3,685.8 L606.4,686.2 L607.5,686.7 L608.6,687.1 L609.7,687.5 L610.8,688.0 L612.0,688.4 L613.1,688.8 L614.2,689.3 L615.3,689.7 L616.4,690.1 L617.6,690.5 L618.7,690.9 L619.8,691.3 L621.0,691.7 L622.1,692.1 L623.3,692.4 L624.4,692.8 L625.5,693.2 L626.7,693.5 L627.8,693.9 L629.0,694.2 L630.2,694.6 L631.3,694.9 L632.5,695.2 L633.6,695.5 L634.8,695.8 L636.0,696.1 L637.2,696.4 L638.3,696.7 L639.5,696.9 L640.7,697.2 L641.9,697.5 L643.0,697.7 L644.2,697.9 L645.4,698.2 L646.6,698.4 L647.8,698.6 L649.0,698.8 L650.2,699.0 L651.3,699.2 L652.5,699.4 L653.7,699.5 L654.9,699.7 L656.1,699.8 L657.3,700.0 L658.5,700.1 L659.7,700.2 L660.9,700.4 L662.1,700.5 L663.3,700.6 L664.5,700.7 L665.6,700.7 L666.8,700.8 L668.0,700.9 L669.2,700.9 L670.4,701.0 L671.6,701.0 L672.8,701.0 L674.0,701.1 L675.2,701.1 L676.3,701.1 L677.5,701.0 L678.7,701.0 L679.9,701.0 L681.1,700.9 L682.2,700.9 L683.4,700.8 L684.6,700.8 L685.7,700.7 L686.9,700.6 L688.1,700.5 L689.2,700.4 L690.4,700.3 L691.6,700.1 L692.7,700.0 L693.9,699.8 L695.0,699.7 L696.2,699.5 L697.3,699.3 L698.4,699.1 L699.6,698.9 L700.7,698.7 L701.8,698.5 L703.0,698.3 L704.1,698.0 L705.2,697.8 L706.3,697.5 L707.4,697.2 L708.5,696.9 L709.6,696.6 L710.7,696.3 L711.8,696.0 L712.9,695.7 L714.0,695.4 L715.1,695.0 L716.2,694.7 L717.3,694.3 L718.4,694.0 L719.5,693.6 L720.5,693.2 L721.6,692.8 L722.7,692.4 L723.7,692.0 L724.8,691.6 L725.9,691.2 L726.9,690.7 L728.0,690.3 L729.0,689.8 L730.1,689.4 L731.1,688.9 L732.1,688.4 L733.2,687.9 L734.2,687.4 L735.3,686.9 L736.3,686.4 L737.3,685.9 L738.3,685.4 L739.3,684.9 L740.4,684.3 L741.4,683.8 L742.4,683.2 L743.4,682.7 L744.4,682.1 L745.4,681.5 L746.4,680.9 L747.4,680.3 L748.4,679.8 L749.4,679.1 L750.4,678.5 L751.3,677.9 L752.3,677.3 L753.3,676.7 L754.3,676.0 L755.2,675.4 L756.2,674.7 L757.2,674.1 L758.1,673.4 L759.1,672.7 L760.1,672.1 L761.0,671.4 L762.0,670.7 L762.9,670.0 L763.8,669.3 L764.8,668.6 L765.7,667.9 L766.7,667.2 L767.6,666.5 L768.5,665.7 L769.5,665.0 L770.4,664.3 L771.3,663.5 L772.2,662.8 L773.1,662.0 L774.0,661.3 L775.0,660.5 L775.9,659.7 L776.8,659.0 L777.7,658.2 L778.6,657.4 L779.5,656.6 L780.4,655.8 L781.2,655.0 L782.1,654.2 L783.0,653.4 L783.9,652.6 L784.8,651.8 L785.7,651.0 L786.5,650.2 L787.4,649.4 L788.3,648.5 L789.1,647.7 L790.0,646.9 L790.9,646.0 L791.7,645.2 L792.6,644.4 L793.4,643.5 L794.3,642.6 L795.1,641.8 L796.0,640.9 L796.8,640.1 L797.6,639.2 L798.5,638.3 L799.3,637.5 L800.1,636.6 L801.0,635.7 L801.8,634.8 L802.6,634.0 L803.4,633.1 L804.2,632.2 L805.0,631.3 L805.9,630.4 L806.7,629.5 L807.5,628.6 L808.3,627.7 L809.1,626.8 L809.9,625.9 L810.7,625.0 L811.5,624.1 L812.2,623.2 L813.0,622.3 L813.8,621.4 L814.6,620.5 L815.4,619.6 L816.2,618.6 L816.9,617.7 L817.7,616.8 L818.5,615.9 L819.2,615.0 L820.0,614.0 L820.8,613.1 L821.5,612.2 L822.3,611.3 L823.0,610.3 L823.8,609.4 L824.5,608.5 L825.3,607.5 L826.0,606.6 L826.8,605.7 L827.5,604.7 L828.2,603.8 L829.0,602.9 L829.7,601.9 L830.4,601.0 L831.2,600.1 L831.9,599.1 L832.6,598.2 L833.3,597.2 L834.0,596.3 L834.8,595.3 L835.5,594.4 L836.2,593.4 L836.9,592.5 L837.6,591.5 L838.3,590.6 L839.0,589.6 L839.7,588.7 L840.4,587.7 L841.1,586.8 L841.8,585.8 L842.5,584.8 L843.2,583.9 L843.8,582.9 L844.5,582.0 L845.2,581.0 L845.9,580.0 L846.6,579.1 L847.2,578.1 L847.9,577.1 L848.6,576.2 L849.3,575.2 L849.9,574.2 L850.6,573.2 L851.3,572.3 L851.9,571.3 L852.6,570.3 L853.2,569.3 L853.9,568.4 L854.5,567.4 L855.2,566.4 L855.8,565.4 L856.5,564.4 L857.1,563.5 L857.8,562.5 L858.4,561.5 L859.1,560.5 L859.7,559.5 L860.3,558.5 L861.0,557.5 L861.6,556.6 L862.2,555.6 L862.9,554.6 L863.5,553.6 L864.1,552.6 L864.7,551.6 L865.4,550.6 L866.0,549.6 L866.6,548.6 L867.2,547.6 L867.8,546.6 L868.4,545.6 L869.0,544.6 L869.7,543.6 L870.3,542.6 L870.9,541.6 L871.5,540.6 L872.1,539.6 L872.7,538.6 L873.3,537.6 L873.9,536.6 L874.5,535.6 L875.1,534.5 L875.7,533.5 L876.3,532.5 L876.8,531.5 L877.4,530.5 L878.0,529.5 L878.6,528.5 L879.2,527.4 L879.8,526.4 L880.4,525.4 L880.9,524.4 L881.5,523.4 L882.1,522.4 L882.7,521.3 L883.2,520.3 L883.8,519.3 L884.4,518.3 L885.0,517.2 L885.5,516.2 L886.1,515.2 L886.7,514.2 L887.2,513.1 L887.8,512.1 L888.4,511.1 L888.9,510.0 L889.5,509.0 L890.0,508.0 L890.6,507.0 L891.1,505.9 L891.7,504.9 L892.3,503.9 L892.8,502.8 L893.4,501.8 L893.9,500.7 L894.5,499.7 L895.0,498.7 L895.5,497.6 L896.1,496.6 L896.6,495.6 L897.2,494.5 L897.7,493.5 L898.3,492.4 L898.8,491.4 L899.3,490.4 L899.9,489.3 L900.4,488.3 L901.0,487.2 L901.5,486.2 L902.0,485.1 L902.6,484.1 L903.1,483.0 L903.6,482.0 L904.1,480.9 L904.7,479.9 L905.2,478.8 L905.7,477.8 L906.3,476.7 L906.8,475.7 L907.3,474.6 L907.8,473.6 L908.4,472.5 L908.9,471.5 L909.4,470.4 L909.9,469.4 L910.4,468.3 L911.0,467.3 L911.5,466.2 L912.0,465.1 L912.5,464.1 L913.0,463.0 L913.5,462.0 L914.0,460.9 L914.6,459.8 L915.1,458.8 L915.6,457.7 L916.1,456.7 L916.6,455.6 L917.1,454.5 L917.6,453.5 L918.1,452.4 L918.6,451.4 L919.1,450.3 L919.7,449.2 L920.2,448.2 L920.7,447.1 L921.2,446.0 L921.7,445.0 L922.2,443.9 L922.7,442.8 L923.2,441.8 L923.7,440.7 L924.2,439.6 L924.7,438.6 L925.2,437.5 L925.7,436.4 L926.2,435.4 L926.7,434.3 L927.2,433.2 L927.7,432.1 L928.2,431.1 L928.7,430.0 L929.2,428.9 L929.7,427.9 L930.2,426.8 L930.7,425.7 L931.2,424.6 L931.7,423.6 L932.2,422.5 L932.7,421.4 L933.2,420.3 L933.7,419.3 L934.1,418.2 L934.6,417.1 L935.1,416.0 L935.6,415.0 L936.1,413.9 L936.6,412.8 L937.1,411.7 L937.6,410.7 L938.1,409.6 L938.6,408.5 L939.1,407.4 L939.6,406.3 L940.1,405.3 L940.6,404.2 L941.1,403.1 L941.5,402.0 L942.0,401.0 L942.5,399.9 L943.0,398.8 L943.5,397.7 L944.0,396.6 L944.5,395.6 L945.0,394.5 L945.5,393.4 L946.0,392.3 L946.5,391.2 L947.0,390.1 L947.5,389.1 L947.9,388.0 L948.4,386.9 L948.9,385.8 L949.4,384.7 L949.9,383.7 L950.4,382.6 L950.9,381.5 L951.4,380.4 L951.9,379.3 L952.4,378.2 L952.9,377.2 L953.4,376.1 L953.9,375.0 L954.4,373.9 L954.9,372.8 L955.4,371.7 L955.8,370.7 L956.3,369.6 L956.8,368.5 L957.3,367.4 L957.8,366.3 L958.3,365.2 L958.8,364.2 L959.3,363.1" stroke="#e00000" stroke-width="4.5" stroke-dasharray="4.7 8.75" stroke-dashoffset="2"/>
</g>
<g font-family="'Liberation Serif','Times New Roman',serif" fill="#000" stroke="#000" stroke-width="0.35" style="font-kerning:none">
<text transform="translate(136.54,1290.20) scale(0.9650,1.0300)" font-size="45">0</text>
<text transform="translate(251.86,1290.20) scale(0.9650,1.0300)" font-size="45">0.05</text>
<text transform="translate(405.60,1290.20) scale(0.9650,1.0300)" font-size="45">0.1</text>
<text transform="translate(536.72,1290.20) scale(0.9650,1.0300)" font-size="45">0.15</text>
<text transform="translate(690.36,1290.20) scale(0.9650,1.0300)" font-size="45">0.2</text>
<text transform="translate(821.59,1290.20) scale(0.9650,1.0300)" font-size="45">0.25</text>
<text transform="translate(974.88,1290.20) scale(0.9650,1.0300)" font-size="45">0.3</text>
<text transform="translate(108.24,1248.50) scale(0.9650,1.0300)" font-size="45">0</text>
<text transform="translate(76.63,1105.12) scale(0.9650,1.0300)" font-size="45">0.1</text>
<text transform="translate(76.41,961.73) scale(0.9650,1.0300)" font-size="45">0.2</text>
<text transform="translate(75.72,818.35) scale(0.9650,1.0300)" font-size="45">0.3</text>
<text transform="translate(74.70,674.97) scale(0.9650,1.0300)" font-size="45">0.4</text>
<text transform="translate(75.72,531.58) scale(0.9650,1.0300)" font-size="45">0.5</text>
<text transform="translate(75.31,388.20) scale(0.9650,1.0300)" font-size="45">0.6</text>
</g>
<g font-family="'Liberation Serif','Times New Roman',serif" fill="#000" style="font-kerning:none">
<text transform="translate(393.92,1342.20) scale(1.1200,1.0000)" font-size="46" letter-spacing="1.836">Path</text>
<text transform="translate(510.21,1342.20) scale(1.0800,1.0000)" font-size="46" letter-spacing="1.054">length,</text>
<text transform="translate(675.96,1342.40) scale(1.2153,1.1000)" font-size="46" font-style="italic">Δ</text>
<text transform="translate(710.64,1342.60) scale(1.0436,1.0000)" font-size="46" font-style="italic">κ</text>
<text transform="translate(721.66,1337.30) scale(1.0711,1.0000)" font-size="36">ˆ</text>
<text transform="translate(739.29,1350.00) scale(1.0794,1.0000)" font-size="31" font-style="italic">s</text>
<text transform="translate(45.10,1152.09) rotate(-90) scale(1.0500,1.0300)" font-size="46" letter-spacing="0.904">Non-dimensional</text>
<text transform="translate(45.10,787.31) rotate(-90) scale(1.1200,1.0300)" font-size="46" letter-spacing="1.202">strain</text>
<text transform="translate(45.10,652.42) rotate(-90) scale(1.0700,1.0300)" font-size="46" letter-spacing="0.982">energy,</text>
<text transform="translate(45.10,487.36) rotate(-90) scale(1.0321,1.0700)" font-size="46" font-style="italic">Û</text>
</g>
<g fill="none">
<path d="M150.5,21.2 H269.7" stroke="#0000ff" stroke-width="4.5"/>
<path d="M150.3,83.6 H269.7" stroke="#4a00ad" stroke-width="4.5" stroke-dasharray="18.5 8.7 4.6 8.9"/>
<path d="M150.5,152.3 H269.7" stroke="#6b0082" stroke-width="4.5" stroke-dasharray="36.2 17.7"/>
<path d="M150.5,226.8 H269.7" stroke="#8f0058" stroke-width="6.6" stroke-dasharray="7 13.2"/>
<path d="M150.5,311.4 H269.7" stroke="#e00000" stroke-width="4.5" stroke-dasharray="4.7 8.75"/>
</g>
<g font-family="'Liberation Serif','Times New Roman',serif" fill="#000" stroke="#000" stroke-width="0.25" style="font-kerning:none">
<text transform="translate(278.01,37.40) scale(1.0000,1.0000)" font-size="45" font-style="italic">t</text>
<text transform="translate(304.43,35.90) scale(1.1461,1.0000)" font-size="45">=</text>
<text transform="translate(341.67,37.40) scale(1.0000,1.0300)" font-size="45">1</text>
<text transform="translate(375.07,37.40) scale(0.9749,1.0000)" font-size="45">hour</text>
<text transform="translate(466.67,37.40) scale(0.9780,1.0000)" font-size="45">(mono-stable)</text>
<text transform="translate(277.71,92.20) scale(1.0000,1.0000)" font-size="45" font-style="italic">t</text>
<text transform="translate(301.21,90.70) scale(1.1987,1.0000)" font-size="45">=</text>
<text transform="translate(338.87,92.20) scale(1.0000,1.0300)" font-size="45">7</text>
<text transform="translate(372.61,92.20) scale(0.9769,1.0000)" font-size="45">days</text>
<text transform="translate(462.49,92.20) scale(1.0000,1.0000)" font-size="45">(</text>
<text transform="translate(487.99,92.20) scale(1.0000,1.0000)" font-size="45" font-style="italic">J</text>
<text transform="translate(514.97,90.70) scale(1.1748,1.0000)" font-size="45">=</text>
<text transform="translate(557.28,92.20) scale(0.9654,1.0300)" font-size="45">1.1%,</text>
<text transform="translate(671.32,92.20) scale(0.9117,1.0000)" font-size="45" font-style="italic">R</text>
<text transform="translate(700.40,114.80) scale(0.9886,1.0000)" font-size="32">coil</text>
<text transform="translate(758.35,97.90) scale(1.2273,1.0000)" font-size="45">=</text>
<text transform="translate(789.90,99.40) scale(1.0103,1.0300)" font-size="45">16.9</text>
<text transform="translate(883.00,99.40) scale(1.0552,1.0000)" font-size="45">mm)</text>
<text transform="translate(278.62,177.90) scale(1.0468,1.0000)" font-size="45" font-style="italic">T</text>
<text transform="translate(314.27,176.40) scale(1.1748,1.0000)" font-size="45">=</text>
<text transform="translate(359.14,177.90) scale(1.0640,1.0300)" font-size="45">60</text>
<text transform="translate(406.19,179.50) scale(1.0631,0.9900)" font-size="42" font-family="'IPAGothic','WenQuanYi Zen Hei',sans-serif" stroke-width="0">℃</text>
<text transform="translate(458.27,177.90) scale(0.9776,1.0000)" font-size="45">(mono-stable)</text>
<text transform="translate(278.62,240.00) scale(1.0468,1.0000)" font-size="45" font-style="italic">T</text>
<text transform="translate(314.27,238.50) scale(1.1748,1.0000)" font-size="45">=</text>
<text transform="translate(359.71,240.00) scale(1.0464,1.0300)" font-size="45">80</text>
<text transform="translate(406.19,241.60) scale(1.0631,0.9900)" font-size="42" font-family="'IPAGothic','WenQuanYi Zen Hei',sans-serif" stroke-width="0">℃</text>
<text transform="translate(456.34,240.00) scale(1.0000,1.0000)" font-size="45">(</text>
<text transform="translate(475.34,240.00) scale(1.0000,1.0000)" font-size="45" font-style="italic">J</text>
<text transform="translate(502.96,238.50) scale(1.1796,1.0000)" font-size="45">=</text>
<text transform="translate(544.35,240.00) scale(1.0967,1.0300)" font-size="45" font-weight="bold">1.8</text>
<text transform="translate(604.50,240.00) scale(0.9760,1.0300)" font-size="45">%,</text>
<text transform="translate(664.13,240.00) scale(0.9599,1.0000)" font-size="45" font-style="italic">R</text>
<text transform="translate(699.60,264.00) scale(0.9821,1.0000)" font-size="32">coil</text>
<text transform="translate(752.72,238.50) scale(1.1509,1.0000)" font-size="45">=</text>
<text transform="translate(779.41,240.00) scale(0.9339,1.0300)" font-size="45">16.6</text>
<text transform="translate(865.68,240.00) scale(0.9711,1.0000)" font-size="45">mm)</text>
<text transform="translate(278.62,323.00) scale(1.0468,1.0000)" font-size="45" font-style="italic">T</text>
<text transform="translate(314.27,321.50) scale(1.1748,1.0000)" font-size="45">=</text>
<text transform="translate(348.98,323.00) scale(1.0173,1.0300)" font-size="45">100</text>
<text transform="translate(415.83,324.60) scale(1.0433,0.9900)" font-size="42" font-family="'IPAGothic','WenQuanYi Zen Hei',sans-serif" stroke-width="0">℃</text>
<text transform="translate(465.34,323.00) scale(1.0000,1.0000)" font-size="45">(</text>
<text transform="translate(484.34,323.00) scale(1.0000,1.0000)" font-size="45" font-style="italic">J</text>
<text transform="translate(511.96,321.50) scale(1.1796,1.0000)" font-size="45">=</text>
<text transform="translate(553.01,323.00) scale(1.1056,1.0300)" font-size="45" font-weight="bold">5.9</text>
<text transform="translate(613.14,323.00) scale(1.0121,1.0300)" font-size="45">%,</text>
<text transform="translate(673.84,323.00) scale(0.9747,1.0000)" font-size="45" font-style="italic">R</text>
<text transform="translate(709.60,346.60) scale(0.9886,1.0000)" font-size="32">coil</text>
<text transform="translate(760.11,321.50) scale(1.1557,1.0000)" font-size="45">=</text>
<text transform="translate(786.94,323.00) scale(0.9252,1.0300)" font-size="45">15.1</text>
<text transform="translate(873.08,323.00) scale(0.9711,1.0000)" font-size="45">mm)</text>
</g>
</svg>
</body></html>
